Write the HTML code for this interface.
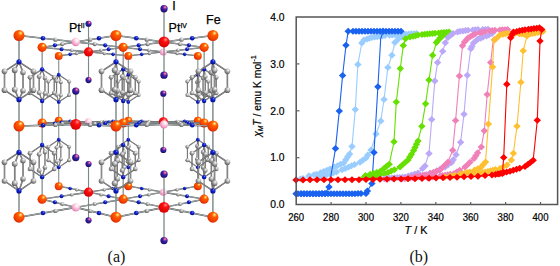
<!DOCTYPE html>
<html><head><meta charset="utf-8"><style>
html,body{margin:0;padding:0;background:#fff;}
svg{display:block;}
.t{font-family:"Liberation Sans",sans-serif;font-size:10.3px;fill:#000;stroke:#000;stroke-width:0.2px;}
.lab{font-family:"Liberation Sans",sans-serif;font-size:12.5px;fill:#000;stroke:#000;stroke-width:0.25px;}
.cap{font-family:"Liberation Serif",serif;font-size:16px;fill:#111;}
</style></head><body>
<svg width="560" height="266" viewBox="0 0 560 266">
<defs>
<radialGradient id="gFe" cx="0.62" cy="0.32" r="0.75" fx="0.65" fy="0.28">
 <stop offset="0" stop-color="#ffffd0"/><stop offset="0.1" stop-color="#ffc050"/><stop offset="0.3" stop-color="#ff5c00"/><stop offset="0.75" stop-color="#f03c00"/><stop offset="1" stop-color="#c81c00"/></radialGradient>
<radialGradient id="gPt4" cx="0.62" cy="0.32" r="0.75" fx="0.65" fy="0.28">
 <stop offset="0" stop-color="#ff9090"/><stop offset="0.3" stop-color="#ff1010"/><stop offset="1" stop-color="#d00000"/></radialGradient>
<radialGradient id="gPt2" cx="0.62" cy="0.32" r="0.75" fx="0.65" fy="0.28">
 <stop offset="0" stop-color="#ffffff"/><stop offset="0.35" stop-color="#fcd6e6"/><stop offset="0.8" stop-color="#f090c0"/><stop offset="1" stop-color="#e070a8"/></radialGradient>
<radialGradient id="gI" cx="0.62" cy="0.32" r="0.75" fx="0.65" fy="0.28">
 <stop offset="0" stop-color="#ffb0d0"/><stop offset="0.2" stop-color="#c04090"/><stop offset="0.45" stop-color="#3020a8"/><stop offset="1" stop-color="#200a60"/></radialGradient>
<radialGradient id="gN" cx="0.62" cy="0.32" r="0.75" fx="0.65" fy="0.28">
 <stop offset="0" stop-color="#8090ff"/><stop offset="0.3" stop-color="#1428d0"/><stop offset="1" stop-color="#000890"/></radialGradient>
<radialGradient id="gC" cx="0.62" cy="0.32" r="0.75" fx="0.65" fy="0.28">
 <stop offset="0" stop-color="#ffffff"/><stop offset="0.3" stop-color="#c4c4c4"/><stop offset="1" stop-color="#4a4a4a"/></radialGradient>
</defs>
<rect width="560" height="266" fill="#fff"/>
<g id="struct">
<line x1="58.74" y1="74.74" x2="60.83" y2="82.13" stroke="#505050" stroke-width="1.06"/><line x1="58.74" y1="74.74" x2="60.83" y2="82.13" stroke="#c8c8c8" stroke-width="0.35"/>
<line x1="60.83" y1="82.13" x2="60.83" y2="95.34" stroke="#505050" stroke-width="1.05"/><line x1="60.83" y1="82.13" x2="60.83" y2="95.34" stroke="#c8c8c8" stroke-width="0.35"/>
<line x1="60.83" y1="95.34" x2="58.74" y2="101.93" stroke="#505050" stroke-width="1.06"/><line x1="60.83" y1="95.34" x2="58.74" y2="101.93" stroke="#c8c8c8" stroke-width="0.35"/>
<line x1="128.32" y1="74.74" x2="128.97" y2="82.13" stroke="#505050" stroke-width="1.06"/><line x1="128.32" y1="74.74" x2="128.97" y2="82.13" stroke="#c8c8c8" stroke-width="0.35"/>
<line x1="128.97" y1="82.13" x2="128.97" y2="95.34" stroke="#505050" stroke-width="1.05"/><line x1="128.97" y1="82.13" x2="128.97" y2="95.34" stroke="#c8c8c8" stroke-width="0.35"/>
<line x1="128.97" y1="95.34" x2="128.32" y2="101.93" stroke="#505050" stroke-width="1.06"/><line x1="128.97" y1="95.34" x2="128.32" y2="101.93" stroke="#c8c8c8" stroke-width="0.35"/>
<line x1="197.84" y1="74.74" x2="197.04" y2="82.13" stroke="#505050" stroke-width="1.06"/><line x1="197.84" y1="74.74" x2="197.04" y2="82.13" stroke="#c8c8c8" stroke-width="0.35"/>
<line x1="197.04" y1="82.13" x2="197.04" y2="95.34" stroke="#505050" stroke-width="1.05"/><line x1="197.04" y1="82.13" x2="197.04" y2="95.34" stroke="#c8c8c8" stroke-width="0.35"/>
<line x1="197.04" y1="95.34" x2="197.84" y2="101.93" stroke="#505050" stroke-width="1.06"/><line x1="197.04" y1="95.34" x2="197.84" y2="101.93" stroke="#c8c8c8" stroke-width="0.35"/>
<line x1="58.74" y1="139.67" x2="60.83" y2="145.96" stroke="#505050" stroke-width="1.06"/><line x1="58.74" y1="139.67" x2="60.83" y2="145.96" stroke="#c8c8c8" stroke-width="0.35"/>
<line x1="60.83" y1="145.96" x2="60.83" y2="159.16" stroke="#505050" stroke-width="1.05"/><line x1="60.83" y1="145.96" x2="60.83" y2="159.16" stroke="#c8c8c8" stroke-width="0.35"/>
<line x1="60.83" y1="159.16" x2="58.74" y2="167.36" stroke="#505050" stroke-width="1.06"/><line x1="60.83" y1="159.16" x2="58.74" y2="167.36" stroke="#c8c8c8" stroke-width="0.35"/>
<line x1="128.32" y1="139.67" x2="128.97" y2="145.96" stroke="#505050" stroke-width="1.06"/><line x1="128.32" y1="139.67" x2="128.97" y2="145.96" stroke="#c8c8c8" stroke-width="0.35"/>
<line x1="128.97" y1="145.96" x2="128.97" y2="159.16" stroke="#505050" stroke-width="1.05"/><line x1="128.97" y1="145.96" x2="128.97" y2="159.16" stroke="#c8c8c8" stroke-width="0.35"/>
<line x1="128.97" y1="159.16" x2="128.32" y2="167.36" stroke="#505050" stroke-width="1.06"/><line x1="128.97" y1="159.16" x2="128.32" y2="167.36" stroke="#c8c8c8" stroke-width="0.35"/>
<line x1="197.84" y1="139.67" x2="197.04" y2="145.96" stroke="#505050" stroke-width="1.06"/><line x1="197.84" y1="139.67" x2="197.04" y2="145.96" stroke="#c8c8c8" stroke-width="0.35"/>
<line x1="197.04" y1="145.96" x2="197.04" y2="159.16" stroke="#505050" stroke-width="1.05"/><line x1="197.04" y1="145.96" x2="197.04" y2="159.16" stroke="#c8c8c8" stroke-width="0.35"/>
<line x1="197.04" y1="159.16" x2="197.84" y2="167.36" stroke="#505050" stroke-width="1.06"/><line x1="197.04" y1="159.16" x2="197.84" y2="167.36" stroke="#c8c8c8" stroke-width="0.35"/>
<circle cx="60.83" cy="82.13" r="1.97" fill="url(#gC)"/>
<circle cx="60.83" cy="95.34" r="1.97" fill="url(#gC)"/>
<circle cx="128.97" cy="82.13" r="1.97" fill="url(#gC)"/>
<circle cx="128.97" cy="95.34" r="1.97" fill="url(#gC)"/>
<circle cx="197.04" cy="82.13" r="1.97" fill="url(#gC)"/>
<circle cx="197.04" cy="95.34" r="1.97" fill="url(#gC)"/>
<circle cx="60.83" cy="145.96" r="1.97" fill="url(#gC)"/>
<circle cx="60.83" cy="159.16" r="1.97" fill="url(#gC)"/>
<circle cx="128.97" cy="145.96" r="1.97" fill="url(#gC)"/>
<circle cx="128.97" cy="159.16" r="1.97" fill="url(#gC)"/>
<circle cx="197.04" cy="145.96" r="1.97" fill="url(#gC)"/>
<circle cx="197.04" cy="159.16" r="1.97" fill="url(#gC)"/>
<line x1="58.74" y1="55.88" x2="88.51" y2="51.95" stroke="#3a4040" stroke-width="1.27"/><line x1="58.74" y1="55.88" x2="88.51" y2="51.95" stroke="#d4dada" stroke-width="0.57"/>
<line x1="128.32" y1="55.88" x2="88.51" y2="51.95" stroke="#3a4040" stroke-width="1.27"/><line x1="128.32" y1="55.88" x2="88.51" y2="51.95" stroke="#d4dada" stroke-width="0.57"/>
<line x1="128.32" y1="55.88" x2="163.34" y2="51.95" stroke="#3a4040" stroke-width="1.27"/><line x1="128.32" y1="55.88" x2="163.34" y2="51.95" stroke="#d4dada" stroke-width="0.57"/>
<line x1="197.84" y1="55.88" x2="163.34" y2="51.95" stroke="#3a4040" stroke-width="1.27"/><line x1="197.84" y1="55.88" x2="163.34" y2="51.95" stroke="#d4dada" stroke-width="0.57"/>
<line x1="58.74" y1="120.80" x2="88.51" y2="121.80" stroke="#3a4040" stroke-width="1.27"/><line x1="58.74" y1="120.80" x2="88.51" y2="121.80" stroke="#d4dada" stroke-width="0.57"/>
<line x1="128.32" y1="120.80" x2="88.51" y2="121.80" stroke="#3a4040" stroke-width="1.27"/><line x1="128.32" y1="120.80" x2="88.51" y2="121.80" stroke="#d4dada" stroke-width="0.57"/>
<line x1="128.32" y1="120.80" x2="163.34" y2="121.80" stroke="#3a4040" stroke-width="1.27"/><line x1="128.32" y1="120.80" x2="163.34" y2="121.80" stroke="#d4dada" stroke-width="0.57"/>
<line x1="197.84" y1="120.80" x2="163.34" y2="121.80" stroke="#3a4040" stroke-width="1.27"/><line x1="197.84" y1="120.80" x2="163.34" y2="121.80" stroke="#d4dada" stroke-width="0.57"/>
<line x1="58.74" y1="186.22" x2="88.51" y2="192.20" stroke="#3a4040" stroke-width="1.27"/><line x1="58.74" y1="186.22" x2="88.51" y2="192.20" stroke="#d4dada" stroke-width="0.57"/>
<line x1="128.32" y1="186.22" x2="88.51" y2="192.20" stroke="#3a4040" stroke-width="1.27"/><line x1="128.32" y1="186.22" x2="88.51" y2="192.20" stroke="#d4dada" stroke-width="0.57"/>
<line x1="128.32" y1="186.22" x2="163.34" y2="192.20" stroke="#3a4040" stroke-width="1.27"/><line x1="128.32" y1="186.22" x2="163.34" y2="192.20" stroke="#d4dada" stroke-width="0.57"/>
<line x1="197.84" y1="186.22" x2="163.34" y2="192.20" stroke="#3a4040" stroke-width="1.27"/><line x1="197.84" y1="186.22" x2="163.34" y2="192.20" stroke="#d4dada" stroke-width="0.57"/>
<line x1="58.74" y1="55.88" x2="58.74" y2="74.74" stroke="#7e8888" stroke-width="1.04"/>
<line x1="58.74" y1="101.93" x2="58.74" y2="120.80" stroke="#7e8888" stroke-width="1.04"/>
<line x1="58.74" y1="74.74" x2="48.34" y2="81.60" stroke="#505050" stroke-width="1.08"/><line x1="58.74" y1="74.74" x2="48.34" y2="81.60" stroke="#c8c8c8" stroke-width="0.36"/>
<line x1="48.34" y1="81.60" x2="48.34" y2="95.08" stroke="#505050" stroke-width="1.08"/><line x1="48.34" y1="81.60" x2="48.34" y2="95.08" stroke="#c8c8c8" stroke-width="0.36"/>
<line x1="48.34" y1="95.08" x2="58.74" y2="101.93" stroke="#505050" stroke-width="1.08"/><line x1="48.34" y1="95.08" x2="58.74" y2="101.93" stroke="#c8c8c8" stroke-width="0.36"/>
<line x1="58.74" y1="74.74" x2="69.14" y2="81.60" stroke="#505050" stroke-width="1.08"/><line x1="58.74" y1="74.74" x2="69.14" y2="81.60" stroke="#c8c8c8" stroke-width="0.36"/>
<line x1="69.14" y1="81.60" x2="69.14" y2="95.08" stroke="#505050" stroke-width="1.08"/><line x1="69.14" y1="81.60" x2="69.14" y2="95.08" stroke="#c8c8c8" stroke-width="0.36"/>
<line x1="69.14" y1="95.08" x2="58.74" y2="101.93" stroke="#505050" stroke-width="1.08"/><line x1="69.14" y1="95.08" x2="58.74" y2="101.93" stroke="#c8c8c8" stroke-width="0.36"/>
<line x1="58.74" y1="74.74" x2="56.56" y2="81.03" stroke="#505050" stroke-width="1.09"/><line x1="58.74" y1="74.74" x2="56.56" y2="81.03" stroke="#c8c8c8" stroke-width="0.36"/>
<line x1="56.56" y1="94.81" x2="58.74" y2="101.93" stroke="#505050" stroke-width="1.09"/><line x1="56.56" y1="94.81" x2="58.74" y2="101.93" stroke="#c8c8c8" stroke-width="0.36"/>
<line x1="128.32" y1="55.88" x2="128.32" y2="74.74" stroke="#7e8888" stroke-width="1.04"/>
<line x1="128.32" y1="101.93" x2="128.32" y2="120.80" stroke="#7e8888" stroke-width="1.04"/>
<line x1="128.32" y1="74.74" x2="117.92" y2="81.60" stroke="#505050" stroke-width="1.08"/><line x1="128.32" y1="74.74" x2="117.92" y2="81.60" stroke="#c8c8c8" stroke-width="0.36"/>
<line x1="117.92" y1="81.60" x2="117.92" y2="95.08" stroke="#505050" stroke-width="1.08"/><line x1="117.92" y1="81.60" x2="117.92" y2="95.08" stroke="#c8c8c8" stroke-width="0.36"/>
<line x1="117.92" y1="95.08" x2="128.32" y2="101.93" stroke="#505050" stroke-width="1.08"/><line x1="117.92" y1="95.08" x2="128.32" y2="101.93" stroke="#c8c8c8" stroke-width="0.36"/>
<line x1="128.32" y1="74.74" x2="138.72" y2="81.60" stroke="#505050" stroke-width="1.08"/><line x1="128.32" y1="74.74" x2="138.72" y2="81.60" stroke="#c8c8c8" stroke-width="0.36"/>
<line x1="138.72" y1="81.60" x2="138.72" y2="95.08" stroke="#505050" stroke-width="1.08"/><line x1="138.72" y1="81.60" x2="138.72" y2="95.08" stroke="#c8c8c8" stroke-width="0.36"/>
<line x1="138.72" y1="95.08" x2="128.32" y2="101.93" stroke="#505050" stroke-width="1.08"/><line x1="138.72" y1="95.08" x2="128.32" y2="101.93" stroke="#c8c8c8" stroke-width="0.36"/>
<line x1="128.32" y1="74.74" x2="127.65" y2="81.03" stroke="#505050" stroke-width="1.09"/><line x1="128.32" y1="74.74" x2="127.65" y2="81.03" stroke="#c8c8c8" stroke-width="0.36"/>
<line x1="127.65" y1="94.81" x2="128.32" y2="101.93" stroke="#505050" stroke-width="1.09"/><line x1="127.65" y1="94.81" x2="128.32" y2="101.93" stroke="#c8c8c8" stroke-width="0.36"/>
<line x1="197.84" y1="55.88" x2="197.84" y2="74.74" stroke="#7e8888" stroke-width="1.04"/>
<line x1="197.84" y1="101.93" x2="197.84" y2="120.80" stroke="#7e8888" stroke-width="1.04"/>
<line x1="197.84" y1="74.74" x2="187.43" y2="81.60" stroke="#505050" stroke-width="1.08"/><line x1="197.84" y1="74.74" x2="187.43" y2="81.60" stroke="#c8c8c8" stroke-width="0.36"/>
<line x1="187.43" y1="81.60" x2="187.43" y2="95.08" stroke="#505050" stroke-width="1.08"/><line x1="187.43" y1="81.60" x2="187.43" y2="95.08" stroke="#c8c8c8" stroke-width="0.36"/>
<line x1="187.43" y1="95.08" x2="197.84" y2="101.93" stroke="#505050" stroke-width="1.08"/><line x1="187.43" y1="95.08" x2="197.84" y2="101.93" stroke="#c8c8c8" stroke-width="0.36"/>
<line x1="197.84" y1="74.74" x2="208.24" y2="81.60" stroke="#505050" stroke-width="1.08"/><line x1="197.84" y1="74.74" x2="208.24" y2="81.60" stroke="#c8c8c8" stroke-width="0.36"/>
<line x1="208.24" y1="81.60" x2="208.24" y2="95.08" stroke="#505050" stroke-width="1.08"/><line x1="208.24" y1="81.60" x2="208.24" y2="95.08" stroke="#c8c8c8" stroke-width="0.36"/>
<line x1="208.24" y1="95.08" x2="197.84" y2="101.93" stroke="#505050" stroke-width="1.08"/><line x1="208.24" y1="95.08" x2="197.84" y2="101.93" stroke="#c8c8c8" stroke-width="0.36"/>
<line x1="197.84" y1="74.74" x2="198.66" y2="81.03" stroke="#505050" stroke-width="1.09"/><line x1="197.84" y1="74.74" x2="198.66" y2="81.03" stroke="#c8c8c8" stroke-width="0.36"/>
<line x1="198.66" y1="94.81" x2="197.84" y2="101.93" stroke="#505050" stroke-width="1.09"/><line x1="198.66" y1="94.81" x2="197.84" y2="101.93" stroke="#c8c8c8" stroke-width="0.36"/>
<line x1="58.74" y1="120.80" x2="58.74" y2="139.67" stroke="#7e8888" stroke-width="1.04"/>
<line x1="58.74" y1="167.36" x2="58.74" y2="186.22" stroke="#7e8888" stroke-width="1.04"/>
<line x1="58.74" y1="139.67" x2="48.34" y2="146.77" stroke="#505050" stroke-width="1.08"/><line x1="58.74" y1="139.67" x2="48.34" y2="146.77" stroke="#c8c8c8" stroke-width="0.36"/>
<line x1="48.34" y1="146.77" x2="48.34" y2="160.25" stroke="#505050" stroke-width="1.08"/><line x1="48.34" y1="146.77" x2="48.34" y2="160.25" stroke="#c8c8c8" stroke-width="0.36"/>
<line x1="48.34" y1="160.25" x2="58.74" y2="167.36" stroke="#505050" stroke-width="1.08"/><line x1="48.34" y1="160.25" x2="58.74" y2="167.36" stroke="#c8c8c8" stroke-width="0.36"/>
<line x1="58.74" y1="139.67" x2="69.14" y2="146.77" stroke="#505050" stroke-width="1.08"/><line x1="58.74" y1="139.67" x2="69.14" y2="146.77" stroke="#c8c8c8" stroke-width="0.36"/>
<line x1="69.14" y1="146.77" x2="69.14" y2="160.25" stroke="#505050" stroke-width="1.08"/><line x1="69.14" y1="146.77" x2="69.14" y2="160.25" stroke="#c8c8c8" stroke-width="0.36"/>
<line x1="69.14" y1="160.25" x2="58.74" y2="167.36" stroke="#505050" stroke-width="1.08"/><line x1="69.14" y1="160.25" x2="58.74" y2="167.36" stroke="#c8c8c8" stroke-width="0.36"/>
<line x1="58.74" y1="139.67" x2="56.56" y2="147.61" stroke="#505050" stroke-width="1.09"/><line x1="58.74" y1="139.67" x2="56.56" y2="147.61" stroke="#c8c8c8" stroke-width="0.36"/>
<line x1="56.56" y1="161.39" x2="58.74" y2="167.36" stroke="#505050" stroke-width="1.09"/><line x1="56.56" y1="161.39" x2="58.74" y2="167.36" stroke="#c8c8c8" stroke-width="0.36"/>
<line x1="128.32" y1="120.80" x2="128.32" y2="139.67" stroke="#7e8888" stroke-width="1.04"/>
<line x1="128.32" y1="167.36" x2="128.32" y2="186.22" stroke="#7e8888" stroke-width="1.04"/>
<line x1="128.32" y1="139.67" x2="117.92" y2="146.77" stroke="#505050" stroke-width="1.08"/><line x1="128.32" y1="139.67" x2="117.92" y2="146.77" stroke="#c8c8c8" stroke-width="0.36"/>
<line x1="117.92" y1="146.77" x2="117.92" y2="160.25" stroke="#505050" stroke-width="1.08"/><line x1="117.92" y1="146.77" x2="117.92" y2="160.25" stroke="#c8c8c8" stroke-width="0.36"/>
<line x1="117.92" y1="160.25" x2="128.32" y2="167.36" stroke="#505050" stroke-width="1.08"/><line x1="117.92" y1="160.25" x2="128.32" y2="167.36" stroke="#c8c8c8" stroke-width="0.36"/>
<line x1="128.32" y1="139.67" x2="138.72" y2="146.77" stroke="#505050" stroke-width="1.08"/><line x1="128.32" y1="139.67" x2="138.72" y2="146.77" stroke="#c8c8c8" stroke-width="0.36"/>
<line x1="138.72" y1="146.77" x2="138.72" y2="160.25" stroke="#505050" stroke-width="1.08"/><line x1="138.72" y1="146.77" x2="138.72" y2="160.25" stroke="#c8c8c8" stroke-width="0.36"/>
<line x1="138.72" y1="160.25" x2="128.32" y2="167.36" stroke="#505050" stroke-width="1.08"/><line x1="138.72" y1="160.25" x2="128.32" y2="167.36" stroke="#c8c8c8" stroke-width="0.36"/>
<line x1="128.32" y1="139.67" x2="127.65" y2="147.61" stroke="#505050" stroke-width="1.09"/><line x1="128.32" y1="139.67" x2="127.65" y2="147.61" stroke="#c8c8c8" stroke-width="0.36"/>
<line x1="127.65" y1="161.39" x2="128.32" y2="167.36" stroke="#505050" stroke-width="1.09"/><line x1="127.65" y1="161.39" x2="128.32" y2="167.36" stroke="#c8c8c8" stroke-width="0.36"/>
<line x1="197.84" y1="120.80" x2="197.84" y2="139.67" stroke="#7e8888" stroke-width="1.04"/>
<line x1="197.84" y1="167.36" x2="197.84" y2="186.22" stroke="#7e8888" stroke-width="1.04"/>
<line x1="197.84" y1="139.67" x2="187.43" y2="146.77" stroke="#505050" stroke-width="1.08"/><line x1="197.84" y1="139.67" x2="187.43" y2="146.77" stroke="#c8c8c8" stroke-width="0.36"/>
<line x1="187.43" y1="146.77" x2="187.43" y2="160.25" stroke="#505050" stroke-width="1.08"/><line x1="187.43" y1="146.77" x2="187.43" y2="160.25" stroke="#c8c8c8" stroke-width="0.36"/>
<line x1="187.43" y1="160.25" x2="197.84" y2="167.36" stroke="#505050" stroke-width="1.08"/><line x1="187.43" y1="160.25" x2="197.84" y2="167.36" stroke="#c8c8c8" stroke-width="0.36"/>
<line x1="197.84" y1="139.67" x2="208.24" y2="146.77" stroke="#505050" stroke-width="1.08"/><line x1="197.84" y1="139.67" x2="208.24" y2="146.77" stroke="#c8c8c8" stroke-width="0.36"/>
<line x1="208.24" y1="146.77" x2="208.24" y2="160.25" stroke="#505050" stroke-width="1.08"/><line x1="208.24" y1="146.77" x2="208.24" y2="160.25" stroke="#c8c8c8" stroke-width="0.36"/>
<line x1="208.24" y1="160.25" x2="197.84" y2="167.36" stroke="#505050" stroke-width="1.08"/><line x1="208.24" y1="160.25" x2="197.84" y2="167.36" stroke="#c8c8c8" stroke-width="0.36"/>
<line x1="197.84" y1="139.67" x2="198.66" y2="147.61" stroke="#505050" stroke-width="1.09"/><line x1="197.84" y1="139.67" x2="198.66" y2="147.61" stroke="#c8c8c8" stroke-width="0.36"/>
<line x1="198.66" y1="161.39" x2="197.84" y2="167.36" stroke="#505050" stroke-width="1.09"/><line x1="198.66" y1="161.39" x2="197.84" y2="167.36" stroke="#c8c8c8" stroke-width="0.36"/>
<circle cx="58.74" cy="55.88" r="3.95" fill="url(#gFe)"/>
<circle cx="128.32" cy="55.88" r="3.95" fill="url(#gFe)"/>
<circle cx="197.84" cy="55.88" r="3.95" fill="url(#gFe)"/>
<circle cx="58.74" cy="120.80" r="3.95" fill="url(#gFe)"/>
<circle cx="128.32" cy="120.80" r="3.95" fill="url(#gFe)"/>
<circle cx="197.84" cy="120.80" r="3.95" fill="url(#gFe)"/>
<circle cx="58.74" cy="186.22" r="3.95" fill="url(#gFe)"/>
<circle cx="128.32" cy="186.22" r="3.95" fill="url(#gFe)"/>
<circle cx="197.84" cy="186.22" r="3.95" fill="url(#gFe)"/>
<circle cx="58.74" cy="74.74" r="1.87" fill="url(#gN)"/>
<circle cx="58.74" cy="101.93" r="1.87" fill="url(#gN)"/>
<circle cx="48.34" cy="81.60" r="2.01" fill="url(#gC)"/>
<circle cx="48.34" cy="95.08" r="2.01" fill="url(#gC)"/>
<circle cx="69.14" cy="81.60" r="2.01" fill="url(#gC)"/>
<circle cx="69.14" cy="95.08" r="2.01" fill="url(#gC)"/>
<circle cx="128.32" cy="74.74" r="1.87" fill="url(#gN)"/>
<circle cx="128.32" cy="101.93" r="1.87" fill="url(#gN)"/>
<circle cx="117.92" cy="81.60" r="2.01" fill="url(#gC)"/>
<circle cx="117.92" cy="95.08" r="2.01" fill="url(#gC)"/>
<circle cx="138.72" cy="81.60" r="2.01" fill="url(#gC)"/>
<circle cx="138.72" cy="95.08" r="2.01" fill="url(#gC)"/>
<circle cx="197.84" cy="74.74" r="1.87" fill="url(#gN)"/>
<circle cx="197.84" cy="101.93" r="1.87" fill="url(#gN)"/>
<circle cx="187.43" cy="81.60" r="2.01" fill="url(#gC)"/>
<circle cx="187.43" cy="95.08" r="2.01" fill="url(#gC)"/>
<circle cx="208.24" cy="81.60" r="2.01" fill="url(#gC)"/>
<circle cx="208.24" cy="95.08" r="2.01" fill="url(#gC)"/>
<circle cx="58.74" cy="139.67" r="1.87" fill="url(#gN)"/>
<circle cx="58.74" cy="167.36" r="1.87" fill="url(#gN)"/>
<circle cx="48.34" cy="146.77" r="2.01" fill="url(#gC)"/>
<circle cx="48.34" cy="160.25" r="2.01" fill="url(#gC)"/>
<circle cx="69.14" cy="146.77" r="2.01" fill="url(#gC)"/>
<circle cx="69.14" cy="160.25" r="2.01" fill="url(#gC)"/>
<circle cx="128.32" cy="139.67" r="1.87" fill="url(#gN)"/>
<circle cx="128.32" cy="167.36" r="1.87" fill="url(#gN)"/>
<circle cx="117.92" cy="146.77" r="2.01" fill="url(#gC)"/>
<circle cx="117.92" cy="160.25" r="2.01" fill="url(#gC)"/>
<circle cx="138.72" cy="146.77" r="2.01" fill="url(#gC)"/>
<circle cx="138.72" cy="160.25" r="2.01" fill="url(#gC)"/>
<circle cx="197.84" cy="139.67" r="1.87" fill="url(#gN)"/>
<circle cx="197.84" cy="167.36" r="1.87" fill="url(#gN)"/>
<circle cx="187.43" cy="146.77" r="2.01" fill="url(#gC)"/>
<circle cx="187.43" cy="160.25" r="2.01" fill="url(#gC)"/>
<circle cx="208.24" cy="146.77" r="2.01" fill="url(#gC)"/>
<circle cx="208.24" cy="160.25" r="2.01" fill="url(#gC)"/>
<line x1="56.56" y1="81.03" x2="56.56" y2="94.81" stroke="#505050" stroke-width="1.10"/><line x1="56.56" y1="81.03" x2="56.56" y2="94.81" stroke="#c8c8c8" stroke-width="0.36"/>
<line x1="127.65" y1="81.03" x2="127.65" y2="94.81" stroke="#505050" stroke-width="1.10"/><line x1="127.65" y1="81.03" x2="127.65" y2="94.81" stroke="#c8c8c8" stroke-width="0.36"/>
<line x1="198.66" y1="81.03" x2="198.66" y2="94.81" stroke="#505050" stroke-width="1.10"/><line x1="198.66" y1="81.03" x2="198.66" y2="94.81" stroke="#c8c8c8" stroke-width="0.36"/>
<line x1="56.56" y1="147.61" x2="56.56" y2="161.39" stroke="#505050" stroke-width="1.10"/><line x1="56.56" y1="147.61" x2="56.56" y2="161.39" stroke="#c8c8c8" stroke-width="0.36"/>
<line x1="127.65" y1="147.61" x2="127.65" y2="161.39" stroke="#505050" stroke-width="1.10"/><line x1="127.65" y1="147.61" x2="127.65" y2="161.39" stroke="#c8c8c8" stroke-width="0.36"/>
<line x1="198.66" y1="147.61" x2="198.66" y2="161.39" stroke="#505050" stroke-width="1.10"/><line x1="198.66" y1="147.61" x2="198.66" y2="161.39" stroke="#c8c8c8" stroke-width="0.36"/>
<circle cx="56.56" cy="81.03" r="2.05" fill="url(#gC)"/>
<circle cx="56.56" cy="94.81" r="2.05" fill="url(#gC)"/>
<circle cx="127.65" cy="81.03" r="2.05" fill="url(#gC)"/>
<circle cx="127.65" cy="94.81" r="2.05" fill="url(#gC)"/>
<circle cx="198.66" cy="81.03" r="2.05" fill="url(#gC)"/>
<circle cx="198.66" cy="94.81" r="2.05" fill="url(#gC)"/>
<circle cx="56.56" cy="147.61" r="2.05" fill="url(#gC)"/>
<circle cx="56.56" cy="161.39" r="2.05" fill="url(#gC)"/>
<circle cx="127.65" cy="147.61" r="2.05" fill="url(#gC)"/>
<circle cx="127.65" cy="161.39" r="2.05" fill="url(#gC)"/>
<circle cx="198.66" cy="147.61" r="2.05" fill="url(#gC)"/>
<circle cx="198.66" cy="161.39" r="2.05" fill="url(#gC)"/>
<circle cx="70.13" cy="54.37" r="1.77" fill="url(#gN)"/>
<circle cx="113.09" cy="54.37" r="1.77" fill="url(#gN)"/>
<circle cx="141.72" cy="54.37" r="1.77" fill="url(#gN)"/>
<circle cx="184.64" cy="54.37" r="1.77" fill="url(#gN)"/>
<circle cx="70.13" cy="121.18" r="1.77" fill="url(#gN)"/>
<circle cx="113.09" cy="121.18" r="1.77" fill="url(#gN)"/>
<circle cx="141.72" cy="121.18" r="1.77" fill="url(#gN)"/>
<circle cx="184.64" cy="121.18" r="1.77" fill="url(#gN)"/>
<circle cx="70.13" cy="188.51" r="1.77" fill="url(#gN)"/>
<circle cx="113.09" cy="188.51" r="1.77" fill="url(#gN)"/>
<circle cx="141.72" cy="188.51" r="1.77" fill="url(#gN)"/>
<circle cx="184.64" cy="188.51" r="1.77" fill="url(#gN)"/>
<circle cx="76.68" cy="53.51" r="1.73" fill="url(#gC)"/>
<circle cx="104.33" cy="53.51" r="1.73" fill="url(#gC)"/>
<circle cx="149.43" cy="53.51" r="1.73" fill="url(#gC)"/>
<circle cx="177.05" cy="53.51" r="1.73" fill="url(#gC)"/>
<circle cx="76.68" cy="121.40" r="1.73" fill="url(#gC)"/>
<circle cx="104.33" cy="121.40" r="1.73" fill="url(#gC)"/>
<circle cx="149.43" cy="121.40" r="1.73" fill="url(#gC)"/>
<circle cx="177.05" cy="121.40" r="1.73" fill="url(#gC)"/>
<circle cx="76.68" cy="189.82" r="1.73" fill="url(#gC)"/>
<circle cx="104.33" cy="189.82" r="1.73" fill="url(#gC)"/>
<circle cx="149.43" cy="189.82" r="1.73" fill="url(#gC)"/>
<circle cx="177.05" cy="189.82" r="1.73" fill="url(#gC)"/>
<line x1="42.14" y1="47.37" x2="88.51" y2="51.95" stroke="#3a4040" stroke-width="1.37"/><line x1="42.14" y1="47.37" x2="88.51" y2="51.95" stroke="#d4dada" stroke-width="0.61"/>
<line x1="123.18" y1="47.37" x2="88.51" y2="51.95" stroke="#3a4040" stroke-width="1.37"/><line x1="123.18" y1="47.37" x2="88.51" y2="51.95" stroke="#d4dada" stroke-width="0.61"/>
<line x1="88.51" y1="51.95" x2="88.51" y2="23.77" stroke="#7e8888" stroke-width="1.12"/>
<line x1="88.51" y1="51.95" x2="88.51" y2="80.12" stroke="#7e8888" stroke-width="1.12"/>
<line x1="123.18" y1="47.37" x2="163.34" y2="51.95" stroke="#3a4040" stroke-width="1.37"/><line x1="123.18" y1="47.37" x2="163.34" y2="51.95" stroke="#d4dada" stroke-width="0.61"/>
<line x1="204.13" y1="47.37" x2="163.34" y2="51.95" stroke="#3a4040" stroke-width="1.37"/><line x1="204.13" y1="47.37" x2="163.34" y2="51.95" stroke="#d4dada" stroke-width="0.61"/>
<line x1="42.14" y1="122.97" x2="88.51" y2="121.80" stroke="#3a4040" stroke-width="1.37"/><line x1="42.14" y1="122.97" x2="88.51" y2="121.80" stroke="#d4dada" stroke-width="0.61"/>
<line x1="123.18" y1="122.97" x2="88.51" y2="121.80" stroke="#3a4040" stroke-width="1.37"/><line x1="123.18" y1="122.97" x2="88.51" y2="121.80" stroke="#d4dada" stroke-width="0.61"/>
<line x1="123.18" y1="122.97" x2="163.34" y2="121.80" stroke="#3a4040" stroke-width="1.37"/><line x1="123.18" y1="122.97" x2="163.34" y2="121.80" stroke="#d4dada" stroke-width="0.61"/>
<line x1="204.13" y1="122.97" x2="163.34" y2="121.80" stroke="#3a4040" stroke-width="1.37"/><line x1="204.13" y1="122.97" x2="163.34" y2="121.80" stroke="#d4dada" stroke-width="0.61"/>
<line x1="163.34" y1="121.80" x2="163.34" y2="93.63" stroke="#7e8888" stroke-width="1.12"/>
<line x1="163.34" y1="121.80" x2="163.34" y2="149.98" stroke="#7e8888" stroke-width="1.12"/>
<line x1="42.14" y1="199.16" x2="88.51" y2="192.20" stroke="#3a4040" stroke-width="1.37"/><line x1="42.14" y1="199.16" x2="88.51" y2="192.20" stroke="#d4dada" stroke-width="0.61"/>
<line x1="123.18" y1="199.16" x2="88.51" y2="192.20" stroke="#3a4040" stroke-width="1.37"/><line x1="123.18" y1="199.16" x2="88.51" y2="192.20" stroke="#d4dada" stroke-width="0.61"/>
<line x1="88.51" y1="192.20" x2="88.51" y2="164.03" stroke="#7e8888" stroke-width="1.12"/>
<line x1="88.51" y1="192.20" x2="88.51" y2="220.37" stroke="#7e8888" stroke-width="1.12"/>
<line x1="123.18" y1="199.16" x2="163.34" y2="192.20" stroke="#3a4040" stroke-width="1.37"/><line x1="123.18" y1="199.16" x2="163.34" y2="192.20" stroke="#d4dada" stroke-width="0.61"/>
<line x1="204.13" y1="199.16" x2="163.34" y2="192.20" stroke="#3a4040" stroke-width="1.37"/><line x1="204.13" y1="199.16" x2="163.34" y2="192.20" stroke="#d4dada" stroke-width="0.61"/>
<circle cx="88.51" cy="51.95" r="4.63" fill="url(#gPt4)"/>
<circle cx="88.51" cy="23.77" r="3.09" fill="url(#gI)"/>
<circle cx="88.51" cy="80.12" r="3.09" fill="url(#gI)"/>
<circle cx="163.34" cy="51.95" r="3.55" fill="url(#gPt2)"/>
<circle cx="88.51" cy="121.80" r="3.55" fill="url(#gPt2)"/>
<circle cx="163.34" cy="121.80" r="4.63" fill="url(#gPt4)"/>
<circle cx="163.34" cy="93.63" r="3.09" fill="url(#gI)"/>
<circle cx="163.34" cy="149.98" r="3.09" fill="url(#gI)"/>
<circle cx="88.51" cy="192.20" r="4.63" fill="url(#gPt4)"/>
<circle cx="88.51" cy="164.03" r="3.09" fill="url(#gI)"/>
<circle cx="88.51" cy="220.37" r="3.09" fill="url(#gI)"/>
<circle cx="163.34" cy="192.20" r="3.55" fill="url(#gPt2)"/>
<circle cx="71.74" cy="50.29" r="1.83" fill="url(#gC)"/>
<circle cx="101.04" cy="50.29" r="1.83" fill="url(#gC)"/>
<circle cx="148.82" cy="50.29" r="1.83" fill="url(#gC)"/>
<circle cx="178.09" cy="50.29" r="1.83" fill="url(#gC)"/>
<circle cx="71.74" cy="122.23" r="1.83" fill="url(#gC)"/>
<circle cx="101.04" cy="122.23" r="1.83" fill="url(#gC)"/>
<circle cx="148.82" cy="122.23" r="1.83" fill="url(#gC)"/>
<circle cx="178.09" cy="122.23" r="1.83" fill="url(#gC)"/>
<circle cx="71.74" cy="194.72" r="1.83" fill="url(#gC)"/>
<circle cx="101.04" cy="194.72" r="1.83" fill="url(#gC)"/>
<circle cx="148.82" cy="194.72" r="1.83" fill="url(#gC)"/>
<circle cx="178.09" cy="194.72" r="1.83" fill="url(#gC)"/>
<circle cx="61.57" cy="49.29" r="1.94" fill="url(#gN)"/>
<circle cx="108.65" cy="49.29" r="1.94" fill="url(#gN)"/>
<circle cx="140.01" cy="49.29" r="1.94" fill="url(#gN)"/>
<circle cx="187.03" cy="49.29" r="1.94" fill="url(#gN)"/>
<circle cx="61.57" cy="122.48" r="1.94" fill="url(#gN)"/>
<circle cx="108.65" cy="122.48" r="1.94" fill="url(#gN)"/>
<circle cx="140.01" cy="122.48" r="1.94" fill="url(#gN)"/>
<circle cx="187.03" cy="122.48" r="1.94" fill="url(#gN)"/>
<circle cx="61.57" cy="196.24" r="1.94" fill="url(#gN)"/>
<circle cx="108.65" cy="196.24" r="1.94" fill="url(#gN)"/>
<circle cx="140.01" cy="196.24" r="1.94" fill="url(#gN)"/>
<circle cx="187.03" cy="196.24" r="1.94" fill="url(#gN)"/>
<line x1="42.14" y1="69.34" x2="44.96" y2="78.04" stroke="#505050" stroke-width="1.24"/><line x1="42.14" y1="69.34" x2="44.96" y2="78.04" stroke="#c8c8c8" stroke-width="0.41"/>
<line x1="44.96" y1="78.04" x2="44.96" y2="93.37" stroke="#505050" stroke-width="1.22"/><line x1="44.96" y1="78.04" x2="44.96" y2="93.37" stroke="#c8c8c8" stroke-width="0.40"/>
<line x1="44.96" y1="93.37" x2="42.14" y2="101.00" stroke="#505050" stroke-width="1.24"/><line x1="44.96" y1="93.37" x2="42.14" y2="101.00" stroke="#c8c8c8" stroke-width="0.41"/>
<line x1="123.18" y1="69.34" x2="124.05" y2="78.04" stroke="#505050" stroke-width="1.24"/><line x1="123.18" y1="69.34" x2="124.05" y2="78.04" stroke="#c8c8c8" stroke-width="0.41"/>
<line x1="124.05" y1="78.04" x2="124.05" y2="93.37" stroke="#505050" stroke-width="1.22"/><line x1="124.05" y1="78.04" x2="124.05" y2="93.37" stroke="#c8c8c8" stroke-width="0.40"/>
<line x1="124.05" y1="93.37" x2="123.18" y2="101.00" stroke="#505050" stroke-width="1.24"/><line x1="124.05" y1="93.37" x2="123.18" y2="101.00" stroke="#c8c8c8" stroke-width="0.41"/>
<line x1="204.13" y1="69.34" x2="203.06" y2="78.04" stroke="#505050" stroke-width="1.24"/><line x1="204.13" y1="69.34" x2="203.06" y2="78.04" stroke="#c8c8c8" stroke-width="0.41"/>
<line x1="203.06" y1="78.04" x2="203.06" y2="93.37" stroke="#505050" stroke-width="1.22"/><line x1="203.06" y1="78.04" x2="203.06" y2="93.37" stroke="#c8c8c8" stroke-width="0.40"/>
<line x1="203.06" y1="93.37" x2="204.13" y2="101.00" stroke="#505050" stroke-width="1.24"/><line x1="203.06" y1="93.37" x2="204.13" y2="101.00" stroke="#c8c8c8" stroke-width="0.41"/>
<line x1="42.14" y1="144.94" x2="44.96" y2="152.12" stroke="#505050" stroke-width="1.24"/><line x1="42.14" y1="144.94" x2="44.96" y2="152.12" stroke="#c8c8c8" stroke-width="0.41"/>
<line x1="44.96" y1="152.12" x2="44.96" y2="167.45" stroke="#505050" stroke-width="1.22"/><line x1="44.96" y1="152.12" x2="44.96" y2="167.45" stroke="#c8c8c8" stroke-width="0.40"/>
<line x1="44.96" y1="167.45" x2="42.14" y2="177.19" stroke="#505050" stroke-width="1.24"/><line x1="44.96" y1="167.45" x2="42.14" y2="177.19" stroke="#c8c8c8" stroke-width="0.41"/>
<line x1="123.18" y1="144.94" x2="124.05" y2="152.12" stroke="#505050" stroke-width="1.24"/><line x1="123.18" y1="144.94" x2="124.05" y2="152.12" stroke="#c8c8c8" stroke-width="0.41"/>
<line x1="124.05" y1="152.12" x2="124.05" y2="167.45" stroke="#505050" stroke-width="1.22"/><line x1="124.05" y1="152.12" x2="124.05" y2="167.45" stroke="#c8c8c8" stroke-width="0.40"/>
<line x1="124.05" y1="167.45" x2="123.18" y2="177.19" stroke="#505050" stroke-width="1.24"/><line x1="124.05" y1="167.45" x2="123.18" y2="177.19" stroke="#c8c8c8" stroke-width="0.41"/>
<line x1="204.13" y1="144.94" x2="203.06" y2="152.12" stroke="#505050" stroke-width="1.24"/><line x1="204.13" y1="144.94" x2="203.06" y2="152.12" stroke="#c8c8c8" stroke-width="0.41"/>
<line x1="203.06" y1="152.12" x2="203.06" y2="167.45" stroke="#505050" stroke-width="1.22"/><line x1="203.06" y1="152.12" x2="203.06" y2="167.45" stroke="#c8c8c8" stroke-width="0.40"/>
<line x1="203.06" y1="167.45" x2="204.13" y2="177.19" stroke="#505050" stroke-width="1.24"/><line x1="203.06" y1="167.45" x2="204.13" y2="177.19" stroke="#c8c8c8" stroke-width="0.41"/>
<circle cx="44.96" cy="78.04" r="2.28" fill="url(#gC)"/>
<circle cx="44.96" cy="93.37" r="2.28" fill="url(#gC)"/>
<circle cx="124.05" cy="78.04" r="2.28" fill="url(#gC)"/>
<circle cx="124.05" cy="93.37" r="2.28" fill="url(#gC)"/>
<circle cx="203.06" cy="78.04" r="2.28" fill="url(#gC)"/>
<circle cx="203.06" cy="93.37" r="2.28" fill="url(#gC)"/>
<circle cx="44.96" cy="152.12" r="2.28" fill="url(#gC)"/>
<circle cx="44.96" cy="167.45" r="2.28" fill="url(#gC)"/>
<circle cx="124.05" cy="152.12" r="2.28" fill="url(#gC)"/>
<circle cx="124.05" cy="167.45" r="2.28" fill="url(#gC)"/>
<circle cx="203.06" cy="152.12" r="2.28" fill="url(#gC)"/>
<circle cx="203.06" cy="167.45" r="2.28" fill="url(#gC)"/>
<line x1="42.14" y1="47.37" x2="75.76" y2="41.97" stroke="#3a4040" stroke-width="1.48"/><line x1="42.14" y1="47.37" x2="75.76" y2="41.97" stroke="#d4dada" stroke-width="0.67"/>
<line x1="123.18" y1="47.37" x2="75.76" y2="41.97" stroke="#3a4040" stroke-width="1.48"/><line x1="123.18" y1="47.37" x2="75.76" y2="41.97" stroke="#d4dada" stroke-width="0.67"/>
<line x1="123.18" y1="47.37" x2="164.02" y2="41.97" stroke="#3a4040" stroke-width="1.48"/><line x1="123.18" y1="47.37" x2="164.02" y2="41.97" stroke="#d4dada" stroke-width="0.67"/>
<line x1="204.13" y1="47.37" x2="164.02" y2="41.97" stroke="#3a4040" stroke-width="1.48"/><line x1="204.13" y1="47.37" x2="164.02" y2="41.97" stroke="#d4dada" stroke-width="0.67"/>
<line x1="42.14" y1="122.97" x2="75.76" y2="124.35" stroke="#3a4040" stroke-width="1.48"/><line x1="42.14" y1="122.97" x2="75.76" y2="124.35" stroke="#d4dada" stroke-width="0.67"/>
<line x1="123.18" y1="122.97" x2="75.76" y2="124.35" stroke="#3a4040" stroke-width="1.48"/><line x1="123.18" y1="122.97" x2="75.76" y2="124.35" stroke="#d4dada" stroke-width="0.67"/>
<line x1="123.18" y1="122.97" x2="164.02" y2="124.35" stroke="#3a4040" stroke-width="1.48"/><line x1="123.18" y1="122.97" x2="164.02" y2="124.35" stroke="#d4dada" stroke-width="0.67"/>
<line x1="204.13" y1="122.97" x2="164.02" y2="124.35" stroke="#3a4040" stroke-width="1.48"/><line x1="204.13" y1="122.97" x2="164.02" y2="124.35" stroke="#d4dada" stroke-width="0.67"/>
<line x1="42.14" y1="199.16" x2="75.76" y2="207.37" stroke="#3a4040" stroke-width="1.48"/><line x1="42.14" y1="199.16" x2="75.76" y2="207.37" stroke="#d4dada" stroke-width="0.67"/>
<line x1="123.18" y1="199.16" x2="75.76" y2="207.37" stroke="#3a4040" stroke-width="1.48"/><line x1="123.18" y1="199.16" x2="75.76" y2="207.37" stroke="#d4dada" stroke-width="0.67"/>
<line x1="123.18" y1="199.16" x2="164.02" y2="207.37" stroke="#3a4040" stroke-width="1.48"/><line x1="123.18" y1="199.16" x2="164.02" y2="207.37" stroke="#d4dada" stroke-width="0.67"/>
<line x1="204.13" y1="199.16" x2="164.02" y2="207.37" stroke="#3a4040" stroke-width="1.48"/><line x1="204.13" y1="199.16" x2="164.02" y2="207.37" stroke="#d4dada" stroke-width="0.67"/>
<line x1="42.14" y1="47.37" x2="42.14" y2="69.34" stroke="#7e8888" stroke-width="1.21"/>
<line x1="42.14" y1="101.00" x2="42.14" y2="122.97" stroke="#7e8888" stroke-width="1.21"/>
<line x1="42.14" y1="69.34" x2="30.03" y2="77.32" stroke="#505050" stroke-width="1.25"/><line x1="42.14" y1="69.34" x2="30.03" y2="77.32" stroke="#c8c8c8" stroke-width="0.41"/>
<line x1="30.03" y1="77.32" x2="30.03" y2="93.02" stroke="#505050" stroke-width="1.25"/><line x1="30.03" y1="77.32" x2="30.03" y2="93.02" stroke="#c8c8c8" stroke-width="0.41"/>
<line x1="30.03" y1="93.02" x2="42.14" y2="101.00" stroke="#505050" stroke-width="1.25"/><line x1="30.03" y1="93.02" x2="42.14" y2="101.00" stroke="#c8c8c8" stroke-width="0.41"/>
<line x1="42.14" y1="69.34" x2="54.25" y2="77.32" stroke="#505050" stroke-width="1.25"/><line x1="42.14" y1="69.34" x2="54.25" y2="77.32" stroke="#c8c8c8" stroke-width="0.41"/>
<line x1="54.25" y1="77.32" x2="54.25" y2="93.02" stroke="#505050" stroke-width="1.25"/><line x1="54.25" y1="77.32" x2="54.25" y2="93.02" stroke="#c8c8c8" stroke-width="0.41"/>
<line x1="54.25" y1="93.02" x2="42.14" y2="101.00" stroke="#505050" stroke-width="1.25"/><line x1="54.25" y1="93.02" x2="42.14" y2="101.00" stroke="#c8c8c8" stroke-width="0.41"/>
<line x1="42.14" y1="69.34" x2="39.18" y2="76.55" stroke="#505050" stroke-width="1.27"/><line x1="42.14" y1="69.34" x2="39.18" y2="76.55" stroke="#c8c8c8" stroke-width="0.42"/>
<line x1="39.18" y1="92.65" x2="42.14" y2="101.00" stroke="#505050" stroke-width="1.27"/><line x1="39.18" y1="92.65" x2="42.14" y2="101.00" stroke="#c8c8c8" stroke-width="0.42"/>
<line x1="123.18" y1="47.37" x2="123.18" y2="69.34" stroke="#7e8888" stroke-width="1.21"/>
<line x1="123.18" y1="101.00" x2="123.18" y2="122.97" stroke="#7e8888" stroke-width="1.21"/>
<line x1="123.18" y1="69.34" x2="111.06" y2="77.32" stroke="#505050" stroke-width="1.25"/><line x1="123.18" y1="69.34" x2="111.06" y2="77.32" stroke="#c8c8c8" stroke-width="0.41"/>
<line x1="111.06" y1="77.32" x2="111.06" y2="93.02" stroke="#505050" stroke-width="1.25"/><line x1="111.06" y1="77.32" x2="111.06" y2="93.02" stroke="#c8c8c8" stroke-width="0.41"/>
<line x1="111.06" y1="93.02" x2="123.18" y2="101.00" stroke="#505050" stroke-width="1.25"/><line x1="111.06" y1="93.02" x2="123.18" y2="101.00" stroke="#c8c8c8" stroke-width="0.41"/>
<line x1="123.18" y1="69.34" x2="135.29" y2="77.32" stroke="#505050" stroke-width="1.25"/><line x1="123.18" y1="69.34" x2="135.29" y2="77.32" stroke="#c8c8c8" stroke-width="0.41"/>
<line x1="135.29" y1="77.32" x2="135.29" y2="93.02" stroke="#505050" stroke-width="1.25"/><line x1="135.29" y1="77.32" x2="135.29" y2="93.02" stroke="#c8c8c8" stroke-width="0.41"/>
<line x1="135.29" y1="93.02" x2="123.18" y2="101.00" stroke="#505050" stroke-width="1.25"/><line x1="135.29" y1="93.02" x2="123.18" y2="101.00" stroke="#c8c8c8" stroke-width="0.41"/>
<line x1="123.18" y1="69.34" x2="122.26" y2="76.55" stroke="#505050" stroke-width="1.27"/><line x1="123.18" y1="69.34" x2="122.26" y2="76.55" stroke="#c8c8c8" stroke-width="0.42"/>
<line x1="122.26" y1="92.65" x2="123.18" y2="101.00" stroke="#505050" stroke-width="1.27"/><line x1="122.26" y1="92.65" x2="123.18" y2="101.00" stroke="#c8c8c8" stroke-width="0.42"/>
<line x1="204.13" y1="47.37" x2="204.13" y2="69.34" stroke="#7e8888" stroke-width="1.21"/>
<line x1="204.13" y1="101.00" x2="204.13" y2="122.97" stroke="#7e8888" stroke-width="1.21"/>
<line x1="204.13" y1="69.34" x2="192.01" y2="77.32" stroke="#505050" stroke-width="1.25"/><line x1="204.13" y1="69.34" x2="192.01" y2="77.32" stroke="#c8c8c8" stroke-width="0.41"/>
<line x1="192.01" y1="77.32" x2="192.01" y2="93.02" stroke="#505050" stroke-width="1.25"/><line x1="192.01" y1="77.32" x2="192.01" y2="93.02" stroke="#c8c8c8" stroke-width="0.41"/>
<line x1="192.01" y1="93.02" x2="204.13" y2="101.00" stroke="#505050" stroke-width="1.25"/><line x1="192.01" y1="93.02" x2="204.13" y2="101.00" stroke="#c8c8c8" stroke-width="0.41"/>
<line x1="204.13" y1="69.34" x2="216.24" y2="77.32" stroke="#505050" stroke-width="1.25"/><line x1="204.13" y1="69.34" x2="216.24" y2="77.32" stroke="#c8c8c8" stroke-width="0.41"/>
<line x1="216.24" y1="77.32" x2="216.24" y2="93.02" stroke="#505050" stroke-width="1.25"/><line x1="216.24" y1="77.32" x2="216.24" y2="93.02" stroke="#c8c8c8" stroke-width="0.41"/>
<line x1="216.24" y1="93.02" x2="204.13" y2="101.00" stroke="#505050" stroke-width="1.25"/><line x1="216.24" y1="93.02" x2="204.13" y2="101.00" stroke="#c8c8c8" stroke-width="0.41"/>
<line x1="204.13" y1="69.34" x2="205.25" y2="76.55" stroke="#505050" stroke-width="1.27"/><line x1="204.13" y1="69.34" x2="205.25" y2="76.55" stroke="#c8c8c8" stroke-width="0.42"/>
<line x1="205.25" y1="92.65" x2="204.13" y2="101.00" stroke="#505050" stroke-width="1.27"/><line x1="205.25" y1="92.65" x2="204.13" y2="101.00" stroke="#c8c8c8" stroke-width="0.42"/>
<line x1="42.14" y1="122.97" x2="42.14" y2="144.94" stroke="#7e8888" stroke-width="1.21"/>
<line x1="42.14" y1="177.19" x2="42.14" y2="199.16" stroke="#7e8888" stroke-width="1.21"/>
<line x1="42.14" y1="144.94" x2="30.03" y2="153.21" stroke="#505050" stroke-width="1.25"/><line x1="42.14" y1="144.94" x2="30.03" y2="153.21" stroke="#c8c8c8" stroke-width="0.41"/>
<line x1="30.03" y1="153.21" x2="30.03" y2="168.92" stroke="#505050" stroke-width="1.25"/><line x1="30.03" y1="153.21" x2="30.03" y2="168.92" stroke="#c8c8c8" stroke-width="0.41"/>
<line x1="30.03" y1="168.92" x2="42.14" y2="177.19" stroke="#505050" stroke-width="1.25"/><line x1="30.03" y1="168.92" x2="42.14" y2="177.19" stroke="#c8c8c8" stroke-width="0.41"/>
<line x1="42.14" y1="144.94" x2="54.25" y2="153.21" stroke="#505050" stroke-width="1.25"/><line x1="42.14" y1="144.94" x2="54.25" y2="153.21" stroke="#c8c8c8" stroke-width="0.41"/>
<line x1="54.25" y1="153.21" x2="54.25" y2="168.92" stroke="#505050" stroke-width="1.25"/><line x1="54.25" y1="153.21" x2="54.25" y2="168.92" stroke="#c8c8c8" stroke-width="0.41"/>
<line x1="54.25" y1="168.92" x2="42.14" y2="177.19" stroke="#505050" stroke-width="1.25"/><line x1="54.25" y1="168.92" x2="42.14" y2="177.19" stroke="#c8c8c8" stroke-width="0.41"/>
<line x1="42.14" y1="144.94" x2="39.18" y2="154.36" stroke="#505050" stroke-width="1.27"/><line x1="42.14" y1="144.94" x2="39.18" y2="154.36" stroke="#c8c8c8" stroke-width="0.42"/>
<line x1="39.18" y1="170.47" x2="42.14" y2="177.19" stroke="#505050" stroke-width="1.27"/><line x1="39.18" y1="170.47" x2="42.14" y2="177.19" stroke="#c8c8c8" stroke-width="0.42"/>
<line x1="123.18" y1="122.97" x2="123.18" y2="144.94" stroke="#7e8888" stroke-width="1.21"/>
<line x1="123.18" y1="177.19" x2="123.18" y2="199.16" stroke="#7e8888" stroke-width="1.21"/>
<line x1="123.18" y1="144.94" x2="111.06" y2="153.21" stroke="#505050" stroke-width="1.25"/><line x1="123.18" y1="144.94" x2="111.06" y2="153.21" stroke="#c8c8c8" stroke-width="0.41"/>
<line x1="111.06" y1="153.21" x2="111.06" y2="168.92" stroke="#505050" stroke-width="1.25"/><line x1="111.06" y1="153.21" x2="111.06" y2="168.92" stroke="#c8c8c8" stroke-width="0.41"/>
<line x1="111.06" y1="168.92" x2="123.18" y2="177.19" stroke="#505050" stroke-width="1.25"/><line x1="111.06" y1="168.92" x2="123.18" y2="177.19" stroke="#c8c8c8" stroke-width="0.41"/>
<line x1="123.18" y1="144.94" x2="135.29" y2="153.21" stroke="#505050" stroke-width="1.25"/><line x1="123.18" y1="144.94" x2="135.29" y2="153.21" stroke="#c8c8c8" stroke-width="0.41"/>
<line x1="135.29" y1="153.21" x2="135.29" y2="168.92" stroke="#505050" stroke-width="1.25"/><line x1="135.29" y1="153.21" x2="135.29" y2="168.92" stroke="#c8c8c8" stroke-width="0.41"/>
<line x1="135.29" y1="168.92" x2="123.18" y2="177.19" stroke="#505050" stroke-width="1.25"/><line x1="135.29" y1="168.92" x2="123.18" y2="177.19" stroke="#c8c8c8" stroke-width="0.41"/>
<line x1="123.18" y1="144.94" x2="122.26" y2="154.36" stroke="#505050" stroke-width="1.27"/><line x1="123.18" y1="144.94" x2="122.26" y2="154.36" stroke="#c8c8c8" stroke-width="0.42"/>
<line x1="122.26" y1="170.47" x2="123.18" y2="177.19" stroke="#505050" stroke-width="1.27"/><line x1="122.26" y1="170.47" x2="123.18" y2="177.19" stroke="#c8c8c8" stroke-width="0.42"/>
<line x1="204.13" y1="122.97" x2="204.13" y2="144.94" stroke="#7e8888" stroke-width="1.21"/>
<line x1="204.13" y1="177.19" x2="204.13" y2="199.16" stroke="#7e8888" stroke-width="1.21"/>
<line x1="204.13" y1="144.94" x2="192.01" y2="153.21" stroke="#505050" stroke-width="1.25"/><line x1="204.13" y1="144.94" x2="192.01" y2="153.21" stroke="#c8c8c8" stroke-width="0.41"/>
<line x1="192.01" y1="153.21" x2="192.01" y2="168.92" stroke="#505050" stroke-width="1.25"/><line x1="192.01" y1="153.21" x2="192.01" y2="168.92" stroke="#c8c8c8" stroke-width="0.41"/>
<line x1="192.01" y1="168.92" x2="204.13" y2="177.19" stroke="#505050" stroke-width="1.25"/><line x1="192.01" y1="168.92" x2="204.13" y2="177.19" stroke="#c8c8c8" stroke-width="0.41"/>
<line x1="204.13" y1="144.94" x2="216.24" y2="153.21" stroke="#505050" stroke-width="1.25"/><line x1="204.13" y1="144.94" x2="216.24" y2="153.21" stroke="#c8c8c8" stroke-width="0.41"/>
<line x1="216.24" y1="153.21" x2="216.24" y2="168.92" stroke="#505050" stroke-width="1.25"/><line x1="216.24" y1="153.21" x2="216.24" y2="168.92" stroke="#c8c8c8" stroke-width="0.41"/>
<line x1="216.24" y1="168.92" x2="204.13" y2="177.19" stroke="#505050" stroke-width="1.25"/><line x1="216.24" y1="168.92" x2="204.13" y2="177.19" stroke="#c8c8c8" stroke-width="0.41"/>
<line x1="204.13" y1="144.94" x2="205.25" y2="154.36" stroke="#505050" stroke-width="1.27"/><line x1="204.13" y1="144.94" x2="205.25" y2="154.36" stroke="#c8c8c8" stroke-width="0.42"/>
<line x1="205.25" y1="170.47" x2="204.13" y2="177.19" stroke="#505050" stroke-width="1.27"/><line x1="205.25" y1="170.47" x2="204.13" y2="177.19" stroke="#c8c8c8" stroke-width="0.42"/>
<circle cx="42.14" cy="47.37" r="4.59" fill="url(#gFe)"/>
<circle cx="123.18" cy="47.37" r="4.59" fill="url(#gFe)"/>
<circle cx="204.13" cy="47.37" r="4.59" fill="url(#gFe)"/>
<circle cx="42.14" cy="122.97" r="4.59" fill="url(#gFe)"/>
<circle cx="123.18" cy="122.97" r="4.59" fill="url(#gFe)"/>
<circle cx="204.13" cy="122.97" r="4.59" fill="url(#gFe)"/>
<circle cx="42.14" cy="199.16" r="4.59" fill="url(#gFe)"/>
<circle cx="123.18" cy="199.16" r="4.59" fill="url(#gFe)"/>
<circle cx="204.13" cy="199.16" r="4.59" fill="url(#gFe)"/>
<circle cx="42.14" cy="69.34" r="2.17" fill="url(#gN)"/>
<circle cx="42.14" cy="101.00" r="2.17" fill="url(#gN)"/>
<circle cx="30.03" cy="77.32" r="2.34" fill="url(#gC)"/>
<circle cx="30.03" cy="93.02" r="2.34" fill="url(#gC)"/>
<circle cx="54.25" cy="77.32" r="2.34" fill="url(#gC)"/>
<circle cx="54.25" cy="93.02" r="2.34" fill="url(#gC)"/>
<circle cx="123.18" cy="69.34" r="2.17" fill="url(#gN)"/>
<circle cx="123.18" cy="101.00" r="2.17" fill="url(#gN)"/>
<circle cx="111.06" cy="77.32" r="2.34" fill="url(#gC)"/>
<circle cx="111.06" cy="93.02" r="2.34" fill="url(#gC)"/>
<circle cx="135.29" cy="77.32" r="2.34" fill="url(#gC)"/>
<circle cx="135.29" cy="93.02" r="2.34" fill="url(#gC)"/>
<circle cx="204.13" cy="69.34" r="2.17" fill="url(#gN)"/>
<circle cx="204.13" cy="101.00" r="2.17" fill="url(#gN)"/>
<circle cx="192.01" cy="77.32" r="2.34" fill="url(#gC)"/>
<circle cx="192.01" cy="93.02" r="2.34" fill="url(#gC)"/>
<circle cx="216.24" cy="77.32" r="2.34" fill="url(#gC)"/>
<circle cx="216.24" cy="93.02" r="2.34" fill="url(#gC)"/>
<circle cx="42.14" cy="144.94" r="2.17" fill="url(#gN)"/>
<circle cx="42.14" cy="177.19" r="2.17" fill="url(#gN)"/>
<circle cx="30.03" cy="153.21" r="2.34" fill="url(#gC)"/>
<circle cx="30.03" cy="168.92" r="2.34" fill="url(#gC)"/>
<circle cx="54.25" cy="153.21" r="2.34" fill="url(#gC)"/>
<circle cx="54.25" cy="168.92" r="2.34" fill="url(#gC)"/>
<circle cx="123.18" cy="144.94" r="2.17" fill="url(#gN)"/>
<circle cx="123.18" cy="177.19" r="2.17" fill="url(#gN)"/>
<circle cx="111.06" cy="153.21" r="2.34" fill="url(#gC)"/>
<circle cx="111.06" cy="168.92" r="2.34" fill="url(#gC)"/>
<circle cx="135.29" cy="153.21" r="2.34" fill="url(#gC)"/>
<circle cx="135.29" cy="168.92" r="2.34" fill="url(#gC)"/>
<circle cx="204.13" cy="144.94" r="2.17" fill="url(#gN)"/>
<circle cx="204.13" cy="177.19" r="2.17" fill="url(#gN)"/>
<circle cx="192.01" cy="153.21" r="2.34" fill="url(#gC)"/>
<circle cx="192.01" cy="168.92" r="2.34" fill="url(#gC)"/>
<circle cx="216.24" cy="153.21" r="2.34" fill="url(#gC)"/>
<circle cx="216.24" cy="168.92" r="2.34" fill="url(#gC)"/>
<line x1="39.18" y1="76.55" x2="39.18" y2="92.65" stroke="#505050" stroke-width="1.28"/><line x1="39.18" y1="76.55" x2="39.18" y2="92.65" stroke="#c8c8c8" stroke-width="0.42"/>
<line x1="122.26" y1="76.55" x2="122.26" y2="92.65" stroke="#505050" stroke-width="1.28"/><line x1="122.26" y1="76.55" x2="122.26" y2="92.65" stroke="#c8c8c8" stroke-width="0.42"/>
<line x1="205.25" y1="76.55" x2="205.25" y2="92.65" stroke="#505050" stroke-width="1.28"/><line x1="205.25" y1="76.55" x2="205.25" y2="92.65" stroke="#c8c8c8" stroke-width="0.42"/>
<line x1="39.18" y1="154.36" x2="39.18" y2="170.47" stroke="#505050" stroke-width="1.28"/><line x1="39.18" y1="154.36" x2="39.18" y2="170.47" stroke="#c8c8c8" stroke-width="0.42"/>
<line x1="122.26" y1="154.36" x2="122.26" y2="170.47" stroke="#505050" stroke-width="1.28"/><line x1="122.26" y1="154.36" x2="122.26" y2="170.47" stroke="#c8c8c8" stroke-width="0.42"/>
<line x1="205.25" y1="154.36" x2="205.25" y2="170.47" stroke="#505050" stroke-width="1.28"/><line x1="205.25" y1="154.36" x2="205.25" y2="170.47" stroke="#c8c8c8" stroke-width="0.42"/>
<circle cx="39.18" cy="76.55" r="2.40" fill="url(#gC)"/>
<circle cx="39.18" cy="92.65" r="2.40" fill="url(#gC)"/>
<circle cx="122.26" cy="76.55" r="2.40" fill="url(#gC)"/>
<circle cx="122.26" cy="92.65" r="2.40" fill="url(#gC)"/>
<circle cx="205.25" cy="76.55" r="2.40" fill="url(#gC)"/>
<circle cx="205.25" cy="92.65" r="2.40" fill="url(#gC)"/>
<circle cx="39.18" cy="154.36" r="2.40" fill="url(#gC)"/>
<circle cx="39.18" cy="170.47" r="2.40" fill="url(#gC)"/>
<circle cx="122.26" cy="154.36" r="2.40" fill="url(#gC)"/>
<circle cx="122.26" cy="170.47" r="2.40" fill="url(#gC)"/>
<circle cx="205.25" cy="154.36" r="2.40" fill="url(#gC)"/>
<circle cx="205.25" cy="170.47" r="2.40" fill="url(#gC)"/>
<circle cx="54.90" cy="45.32" r="2.07" fill="url(#gN)"/>
<circle cx="105.18" cy="45.32" r="2.07" fill="url(#gN)"/>
<circle cx="138.68" cy="45.32" r="2.07" fill="url(#gN)"/>
<circle cx="188.90" cy="45.32" r="2.07" fill="url(#gN)"/>
<circle cx="54.90" cy="123.49" r="2.07" fill="url(#gN)"/>
<circle cx="105.18" cy="123.49" r="2.07" fill="url(#gN)"/>
<circle cx="138.68" cy="123.49" r="2.07" fill="url(#gN)"/>
<circle cx="188.90" cy="123.49" r="2.07" fill="url(#gN)"/>
<circle cx="54.90" cy="202.28" r="2.07" fill="url(#gN)"/>
<circle cx="105.18" cy="202.28" r="2.07" fill="url(#gN)"/>
<circle cx="138.68" cy="202.28" r="2.07" fill="url(#gN)"/>
<circle cx="188.90" cy="202.28" r="2.07" fill="url(#gN)"/>
<circle cx="62.30" cy="44.13" r="2.02" fill="url(#gC)"/>
<circle cx="94.75" cy="44.13" r="2.02" fill="url(#gC)"/>
<circle cx="147.66" cy="44.13" r="2.02" fill="url(#gC)"/>
<circle cx="180.08" cy="44.13" r="2.02" fill="url(#gC)"/>
<circle cx="62.30" cy="123.80" r="2.02" fill="url(#gC)"/>
<circle cx="94.75" cy="123.80" r="2.02" fill="url(#gC)"/>
<circle cx="147.66" cy="123.80" r="2.02" fill="url(#gC)"/>
<circle cx="180.08" cy="123.80" r="2.02" fill="url(#gC)"/>
<circle cx="62.30" cy="204.08" r="2.02" fill="url(#gC)"/>
<circle cx="94.75" cy="204.08" r="2.02" fill="url(#gC)"/>
<circle cx="147.66" cy="204.08" r="2.02" fill="url(#gC)"/>
<circle cx="180.08" cy="204.08" r="2.02" fill="url(#gC)"/>
<line x1="19.00" y1="35.50" x2="75.76" y2="41.97" stroke="#3a4040" stroke-width="1.62"/><line x1="19.00" y1="35.50" x2="75.76" y2="41.97" stroke="#d4dada" stroke-width="0.73"/>
<line x1="116.00" y1="35.50" x2="75.76" y2="41.97" stroke="#3a4040" stroke-width="1.62"/><line x1="116.00" y1="35.50" x2="75.76" y2="41.97" stroke="#d4dada" stroke-width="0.73"/>
<line x1="116.00" y1="35.50" x2="164.02" y2="41.97" stroke="#3a4040" stroke-width="1.62"/><line x1="116.00" y1="35.50" x2="164.02" y2="41.97" stroke="#d4dada" stroke-width="0.73"/>
<line x1="212.90" y1="35.50" x2="164.02" y2="41.97" stroke="#3a4040" stroke-width="1.62"/><line x1="212.90" y1="35.50" x2="164.02" y2="41.97" stroke="#d4dada" stroke-width="0.73"/>
<line x1="164.02" y1="41.97" x2="164.02" y2="8.74" stroke="#7e8888" stroke-width="1.32"/>
<line x1="164.02" y1="41.97" x2="164.02" y2="75.19" stroke="#7e8888" stroke-width="1.32"/>
<line x1="19.00" y1="126.00" x2="75.76" y2="124.35" stroke="#3a4040" stroke-width="1.62"/><line x1="19.00" y1="126.00" x2="75.76" y2="124.35" stroke="#d4dada" stroke-width="0.73"/>
<line x1="116.00" y1="126.00" x2="75.76" y2="124.35" stroke="#3a4040" stroke-width="1.62"/><line x1="116.00" y1="126.00" x2="75.76" y2="124.35" stroke="#d4dada" stroke-width="0.73"/>
<line x1="75.76" y1="124.35" x2="75.76" y2="91.12" stroke="#7e8888" stroke-width="1.32"/>
<line x1="75.76" y1="124.35" x2="75.76" y2="157.58" stroke="#7e8888" stroke-width="1.32"/>
<line x1="116.00" y1="126.00" x2="164.02" y2="124.35" stroke="#3a4040" stroke-width="1.62"/><line x1="116.00" y1="126.00" x2="164.02" y2="124.35" stroke="#d4dada" stroke-width="0.73"/>
<line x1="212.90" y1="126.00" x2="164.02" y2="124.35" stroke="#3a4040" stroke-width="1.62"/><line x1="212.90" y1="126.00" x2="164.02" y2="124.35" stroke="#d4dada" stroke-width="0.73"/>
<line x1="19.00" y1="217.20" x2="75.76" y2="207.37" stroke="#3a4040" stroke-width="1.62"/><line x1="19.00" y1="217.20" x2="75.76" y2="207.37" stroke="#d4dada" stroke-width="0.73"/>
<line x1="116.00" y1="217.20" x2="75.76" y2="207.37" stroke="#3a4040" stroke-width="1.62"/><line x1="116.00" y1="217.20" x2="75.76" y2="207.37" stroke="#d4dada" stroke-width="0.73"/>
<line x1="116.00" y1="217.20" x2="164.02" y2="207.37" stroke="#3a4040" stroke-width="1.62"/><line x1="116.00" y1="217.20" x2="164.02" y2="207.37" stroke="#d4dada" stroke-width="0.73"/>
<line x1="212.90" y1="217.20" x2="164.02" y2="207.37" stroke="#3a4040" stroke-width="1.62"/><line x1="212.90" y1="217.20" x2="164.02" y2="207.37" stroke="#d4dada" stroke-width="0.73"/>
<line x1="164.02" y1="207.37" x2="164.02" y2="174.15" stroke="#7e8888" stroke-width="1.32"/>
<line x1="164.02" y1="207.37" x2="164.02" y2="240.60" stroke="#7e8888" stroke-width="1.32"/>
<circle cx="75.76" cy="41.97" r="4.19" fill="url(#gPt2)"/>
<circle cx="164.02" cy="41.97" r="5.46" fill="url(#gPt4)"/>
<circle cx="164.02" cy="8.74" r="3.64" fill="url(#gI)"/>
<circle cx="164.02" cy="75.19" r="3.64" fill="url(#gI)"/>
<circle cx="75.76" cy="124.35" r="5.46" fill="url(#gPt4)"/>
<circle cx="75.76" cy="91.12" r="3.64" fill="url(#gI)"/>
<circle cx="75.76" cy="157.58" r="3.64" fill="url(#gI)"/>
<circle cx="164.02" cy="124.35" r="4.19" fill="url(#gPt2)"/>
<circle cx="75.76" cy="207.37" r="4.19" fill="url(#gPt2)"/>
<circle cx="164.02" cy="207.37" r="5.46" fill="url(#gPt4)"/>
<circle cx="164.02" cy="174.15" r="3.64" fill="url(#gI)"/>
<circle cx="164.02" cy="240.60" r="3.64" fill="url(#gI)"/>
<circle cx="55.43" cy="39.65" r="2.17" fill="url(#gC)"/>
<circle cx="90.17" cy="39.65" r="2.17" fill="url(#gC)"/>
<circle cx="146.82" cy="39.65" r="2.17" fill="url(#gC)"/>
<circle cx="181.52" cy="39.65" r="2.17" fill="url(#gC)"/>
<circle cx="55.43" cy="124.94" r="2.17" fill="url(#gC)"/>
<circle cx="90.17" cy="124.94" r="2.17" fill="url(#gC)"/>
<circle cx="146.82" cy="124.94" r="2.17" fill="url(#gC)"/>
<circle cx="181.52" cy="124.94" r="2.17" fill="url(#gC)"/>
<circle cx="55.43" cy="210.89" r="2.17" fill="url(#gC)"/>
<circle cx="90.17" cy="210.89" r="2.17" fill="url(#gC)"/>
<circle cx="146.82" cy="210.89" r="2.17" fill="url(#gC)"/>
<circle cx="181.52" cy="210.89" r="2.17" fill="url(#gC)"/>
<circle cx="42.99" cy="38.23" r="2.31" fill="url(#gN)"/>
<circle cx="98.99" cy="38.23" r="2.31" fill="url(#gN)"/>
<circle cx="136.30" cy="38.23" r="2.31" fill="url(#gN)"/>
<circle cx="192.23" cy="38.23" r="2.31" fill="url(#gN)"/>
<circle cx="42.99" cy="125.30" r="2.31" fill="url(#gN)"/>
<circle cx="98.99" cy="125.30" r="2.31" fill="url(#gN)"/>
<circle cx="136.30" cy="125.30" r="2.31" fill="url(#gN)"/>
<circle cx="192.23" cy="125.30" r="2.31" fill="url(#gN)"/>
<circle cx="42.99" cy="213.05" r="2.31" fill="url(#gN)"/>
<circle cx="98.99" cy="213.05" r="2.31" fill="url(#gN)"/>
<circle cx="136.30" cy="213.05" r="2.31" fill="url(#gN)"/>
<circle cx="192.23" cy="213.05" r="2.31" fill="url(#gN)"/>
<line x1="19.00" y1="61.80" x2="23.02" y2="72.39" stroke="#505050" stroke-width="1.48"/><line x1="19.00" y1="61.80" x2="23.02" y2="72.39" stroke="#c8c8c8" stroke-width="0.49"/>
<line x1="23.02" y1="72.39" x2="23.02" y2="90.65" stroke="#505050" stroke-width="1.46"/><line x1="23.02" y1="72.39" x2="23.02" y2="90.65" stroke="#c8c8c8" stroke-width="0.48"/>
<line x1="23.02" y1="90.65" x2="19.00" y2="99.70" stroke="#505050" stroke-width="1.48"/><line x1="23.02" y1="90.65" x2="19.00" y2="99.70" stroke="#c8c8c8" stroke-width="0.49"/>
<line x1="116.00" y1="61.80" x2="117.25" y2="72.39" stroke="#505050" stroke-width="1.48"/><line x1="116.00" y1="61.80" x2="117.25" y2="72.39" stroke="#c8c8c8" stroke-width="0.49"/>
<line x1="117.25" y1="72.39" x2="117.25" y2="90.65" stroke="#505050" stroke-width="1.46"/><line x1="117.25" y1="72.39" x2="117.25" y2="90.65" stroke="#c8c8c8" stroke-width="0.48"/>
<line x1="117.25" y1="90.65" x2="116.00" y2="99.70" stroke="#505050" stroke-width="1.48"/><line x1="117.25" y1="90.65" x2="116.00" y2="99.70" stroke="#c8c8c8" stroke-width="0.49"/>
<line x1="212.90" y1="61.80" x2="211.38" y2="72.39" stroke="#505050" stroke-width="1.48"/><line x1="212.90" y1="61.80" x2="211.38" y2="72.39" stroke="#c8c8c8" stroke-width="0.49"/>
<line x1="211.38" y1="72.39" x2="211.38" y2="90.65" stroke="#505050" stroke-width="1.46"/><line x1="211.38" y1="72.39" x2="211.38" y2="90.65" stroke="#c8c8c8" stroke-width="0.48"/>
<line x1="211.38" y1="90.65" x2="212.90" y2="99.70" stroke="#505050" stroke-width="1.48"/><line x1="211.38" y1="90.65" x2="212.90" y2="99.70" stroke="#c8c8c8" stroke-width="0.49"/>
<line x1="19.00" y1="152.30" x2="23.02" y2="160.64" stroke="#505050" stroke-width="1.48"/><line x1="19.00" y1="152.30" x2="23.02" y2="160.64" stroke="#c8c8c8" stroke-width="0.49"/>
<line x1="23.02" y1="160.64" x2="23.02" y2="178.90" stroke="#505050" stroke-width="1.46"/><line x1="23.02" y1="160.64" x2="23.02" y2="178.90" stroke="#c8c8c8" stroke-width="0.48"/>
<line x1="23.02" y1="178.90" x2="19.00" y2="190.90" stroke="#505050" stroke-width="1.48"/><line x1="23.02" y1="178.90" x2="19.00" y2="190.90" stroke="#c8c8c8" stroke-width="0.49"/>
<line x1="116.00" y1="152.30" x2="117.25" y2="160.64" stroke="#505050" stroke-width="1.48"/><line x1="116.00" y1="152.30" x2="117.25" y2="160.64" stroke="#c8c8c8" stroke-width="0.49"/>
<line x1="117.25" y1="160.64" x2="117.25" y2="178.90" stroke="#505050" stroke-width="1.46"/><line x1="117.25" y1="160.64" x2="117.25" y2="178.90" stroke="#c8c8c8" stroke-width="0.48"/>
<line x1="117.25" y1="178.90" x2="116.00" y2="190.90" stroke="#505050" stroke-width="1.48"/><line x1="117.25" y1="178.90" x2="116.00" y2="190.90" stroke="#c8c8c8" stroke-width="0.49"/>
<line x1="212.90" y1="152.30" x2="211.38" y2="160.64" stroke="#505050" stroke-width="1.48"/><line x1="212.90" y1="152.30" x2="211.38" y2="160.64" stroke="#c8c8c8" stroke-width="0.49"/>
<line x1="211.38" y1="160.64" x2="211.38" y2="178.90" stroke="#505050" stroke-width="1.46"/><line x1="211.38" y1="160.64" x2="211.38" y2="178.90" stroke="#c8c8c8" stroke-width="0.48"/>
<line x1="211.38" y1="178.90" x2="212.90" y2="190.90" stroke="#505050" stroke-width="1.48"/><line x1="211.38" y1="178.90" x2="212.90" y2="190.90" stroke="#c8c8c8" stroke-width="0.49"/>
<circle cx="23.02" cy="72.39" r="2.72" fill="url(#gC)"/>
<circle cx="23.02" cy="90.65" r="2.72" fill="url(#gC)"/>
<circle cx="117.25" cy="72.39" r="2.72" fill="url(#gC)"/>
<circle cx="117.25" cy="90.65" r="2.72" fill="url(#gC)"/>
<circle cx="211.38" cy="72.39" r="2.72" fill="url(#gC)"/>
<circle cx="211.38" cy="90.65" r="2.72" fill="url(#gC)"/>
<circle cx="23.02" cy="160.64" r="2.72" fill="url(#gC)"/>
<circle cx="23.02" cy="178.90" r="2.72" fill="url(#gC)"/>
<circle cx="117.25" cy="160.64" r="2.72" fill="url(#gC)"/>
<circle cx="117.25" cy="178.90" r="2.72" fill="url(#gC)"/>
<circle cx="211.38" cy="160.64" r="2.72" fill="url(#gC)"/>
<circle cx="211.38" cy="178.90" r="2.72" fill="url(#gC)"/>
<line x1="19.00" y1="35.50" x2="19.00" y2="61.80" stroke="#7e8888" stroke-width="1.45"/>
<line x1="19.00" y1="99.70" x2="19.00" y2="126.00" stroke="#7e8888" stroke-width="1.45"/>
<line x1="19.00" y1="61.80" x2="4.50" y2="71.35" stroke="#505050" stroke-width="1.50"/><line x1="19.00" y1="61.80" x2="4.50" y2="71.35" stroke="#c8c8c8" stroke-width="0.49"/>
<line x1="4.50" y1="71.35" x2="4.50" y2="90.15" stroke="#505050" stroke-width="1.50"/><line x1="4.50" y1="71.35" x2="4.50" y2="90.15" stroke="#c8c8c8" stroke-width="0.49"/>
<line x1="4.50" y1="90.15" x2="19.00" y2="99.70" stroke="#505050" stroke-width="1.50"/><line x1="4.50" y1="90.15" x2="19.00" y2="99.70" stroke="#c8c8c8" stroke-width="0.49"/>
<line x1="19.00" y1="61.80" x2="33.50" y2="71.35" stroke="#505050" stroke-width="1.50"/><line x1="19.00" y1="61.80" x2="33.50" y2="71.35" stroke="#c8c8c8" stroke-width="0.49"/>
<line x1="33.50" y1="71.35" x2="33.50" y2="90.15" stroke="#505050" stroke-width="1.50"/><line x1="33.50" y1="71.35" x2="33.50" y2="90.15" stroke="#c8c8c8" stroke-width="0.49"/>
<line x1="33.50" y1="90.15" x2="19.00" y2="99.70" stroke="#505050" stroke-width="1.50"/><line x1="33.50" y1="90.15" x2="19.00" y2="99.70" stroke="#c8c8c8" stroke-width="0.49"/>
<line x1="19.00" y1="61.80" x2="14.73" y2="70.25" stroke="#505050" stroke-width="1.52"/><line x1="19.00" y1="61.80" x2="14.73" y2="70.25" stroke="#c8c8c8" stroke-width="0.50"/>
<line x1="14.73" y1="89.62" x2="19.00" y2="99.70" stroke="#505050" stroke-width="1.52"/><line x1="14.73" y1="89.62" x2="19.00" y2="99.70" stroke="#c8c8c8" stroke-width="0.50"/>
<line x1="116.00" y1="35.50" x2="116.00" y2="61.80" stroke="#7e8888" stroke-width="1.45"/>
<line x1="116.00" y1="99.70" x2="116.00" y2="126.00" stroke="#7e8888" stroke-width="1.45"/>
<line x1="116.00" y1="61.80" x2="101.50" y2="71.35" stroke="#505050" stroke-width="1.50"/><line x1="116.00" y1="61.80" x2="101.50" y2="71.35" stroke="#c8c8c8" stroke-width="0.49"/>
<line x1="101.50" y1="71.35" x2="101.50" y2="90.15" stroke="#505050" stroke-width="1.50"/><line x1="101.50" y1="71.35" x2="101.50" y2="90.15" stroke="#c8c8c8" stroke-width="0.49"/>
<line x1="101.50" y1="90.15" x2="116.00" y2="99.70" stroke="#505050" stroke-width="1.50"/><line x1="101.50" y1="90.15" x2="116.00" y2="99.70" stroke="#c8c8c8" stroke-width="0.49"/>
<line x1="116.00" y1="61.80" x2="130.50" y2="71.35" stroke="#505050" stroke-width="1.50"/><line x1="116.00" y1="61.80" x2="130.50" y2="71.35" stroke="#c8c8c8" stroke-width="0.49"/>
<line x1="130.50" y1="71.35" x2="130.50" y2="90.15" stroke="#505050" stroke-width="1.50"/><line x1="130.50" y1="71.35" x2="130.50" y2="90.15" stroke="#c8c8c8" stroke-width="0.49"/>
<line x1="130.50" y1="90.15" x2="116.00" y2="99.70" stroke="#505050" stroke-width="1.50"/><line x1="130.50" y1="90.15" x2="116.00" y2="99.70" stroke="#c8c8c8" stroke-width="0.49"/>
<line x1="116.00" y1="61.80" x2="114.68" y2="70.25" stroke="#505050" stroke-width="1.52"/><line x1="116.00" y1="61.80" x2="114.68" y2="70.25" stroke="#c8c8c8" stroke-width="0.50"/>
<line x1="114.68" y1="89.62" x2="116.00" y2="99.70" stroke="#505050" stroke-width="1.52"/><line x1="114.68" y1="89.62" x2="116.00" y2="99.70" stroke="#c8c8c8" stroke-width="0.50"/>
<line x1="212.90" y1="35.50" x2="212.90" y2="61.80" stroke="#7e8888" stroke-width="1.45"/>
<line x1="212.90" y1="99.70" x2="212.90" y2="126.00" stroke="#7e8888" stroke-width="1.45"/>
<line x1="212.90" y1="61.80" x2="198.40" y2="71.35" stroke="#505050" stroke-width="1.50"/><line x1="212.90" y1="61.80" x2="198.40" y2="71.35" stroke="#c8c8c8" stroke-width="0.49"/>
<line x1="198.40" y1="71.35" x2="198.40" y2="90.15" stroke="#505050" stroke-width="1.50"/><line x1="198.40" y1="71.35" x2="198.40" y2="90.15" stroke="#c8c8c8" stroke-width="0.49"/>
<line x1="198.40" y1="90.15" x2="212.90" y2="99.70" stroke="#505050" stroke-width="1.50"/><line x1="198.40" y1="90.15" x2="212.90" y2="99.70" stroke="#c8c8c8" stroke-width="0.49"/>
<line x1="212.90" y1="61.80" x2="227.40" y2="71.35" stroke="#505050" stroke-width="1.50"/><line x1="212.90" y1="61.80" x2="227.40" y2="71.35" stroke="#c8c8c8" stroke-width="0.49"/>
<line x1="227.40" y1="71.35" x2="227.40" y2="90.15" stroke="#505050" stroke-width="1.50"/><line x1="227.40" y1="71.35" x2="227.40" y2="90.15" stroke="#c8c8c8" stroke-width="0.49"/>
<line x1="227.40" y1="90.15" x2="212.90" y2="99.70" stroke="#505050" stroke-width="1.50"/><line x1="227.40" y1="90.15" x2="212.90" y2="99.70" stroke="#c8c8c8" stroke-width="0.49"/>
<line x1="212.90" y1="61.80" x2="214.52" y2="70.25" stroke="#505050" stroke-width="1.52"/><line x1="212.90" y1="61.80" x2="214.52" y2="70.25" stroke="#c8c8c8" stroke-width="0.50"/>
<line x1="214.52" y1="89.62" x2="212.90" y2="99.70" stroke="#505050" stroke-width="1.52"/><line x1="214.52" y1="89.62" x2="212.90" y2="99.70" stroke="#c8c8c8" stroke-width="0.50"/>
<line x1="19.00" y1="126.00" x2="19.00" y2="152.30" stroke="#7e8888" stroke-width="1.45"/>
<line x1="19.00" y1="190.90" x2="19.00" y2="217.20" stroke="#7e8888" stroke-width="1.45"/>
<line x1="19.00" y1="152.30" x2="4.50" y2="162.20" stroke="#505050" stroke-width="1.50"/><line x1="19.00" y1="152.30" x2="4.50" y2="162.20" stroke="#c8c8c8" stroke-width="0.49"/>
<line x1="4.50" y1="162.20" x2="4.50" y2="181.00" stroke="#505050" stroke-width="1.50"/><line x1="4.50" y1="162.20" x2="4.50" y2="181.00" stroke="#c8c8c8" stroke-width="0.49"/>
<line x1="4.50" y1="181.00" x2="19.00" y2="190.90" stroke="#505050" stroke-width="1.50"/><line x1="4.50" y1="181.00" x2="19.00" y2="190.90" stroke="#c8c8c8" stroke-width="0.49"/>
<line x1="19.00" y1="152.30" x2="33.50" y2="162.20" stroke="#505050" stroke-width="1.50"/><line x1="19.00" y1="152.30" x2="33.50" y2="162.20" stroke="#c8c8c8" stroke-width="0.49"/>
<line x1="33.50" y1="162.20" x2="33.50" y2="181.00" stroke="#505050" stroke-width="1.50"/><line x1="33.50" y1="162.20" x2="33.50" y2="181.00" stroke="#c8c8c8" stroke-width="0.49"/>
<line x1="33.50" y1="181.00" x2="19.00" y2="190.90" stroke="#505050" stroke-width="1.50"/><line x1="33.50" y1="181.00" x2="19.00" y2="190.90" stroke="#c8c8c8" stroke-width="0.49"/>
<line x1="19.00" y1="152.30" x2="14.73" y2="163.86" stroke="#505050" stroke-width="1.52"/><line x1="19.00" y1="152.30" x2="14.73" y2="163.86" stroke="#c8c8c8" stroke-width="0.50"/>
<line x1="14.73" y1="183.23" x2="19.00" y2="190.90" stroke="#505050" stroke-width="1.52"/><line x1="14.73" y1="183.23" x2="19.00" y2="190.90" stroke="#c8c8c8" stroke-width="0.50"/>
<line x1="116.00" y1="126.00" x2="116.00" y2="152.30" stroke="#7e8888" stroke-width="1.45"/>
<line x1="116.00" y1="190.90" x2="116.00" y2="217.20" stroke="#7e8888" stroke-width="1.45"/>
<line x1="116.00" y1="152.30" x2="101.50" y2="162.20" stroke="#505050" stroke-width="1.50"/><line x1="116.00" y1="152.30" x2="101.50" y2="162.20" stroke="#c8c8c8" stroke-width="0.49"/>
<line x1="101.50" y1="162.20" x2="101.50" y2="181.00" stroke="#505050" stroke-width="1.50"/><line x1="101.50" y1="162.20" x2="101.50" y2="181.00" stroke="#c8c8c8" stroke-width="0.49"/>
<line x1="101.50" y1="181.00" x2="116.00" y2="190.90" stroke="#505050" stroke-width="1.50"/><line x1="101.50" y1="181.00" x2="116.00" y2="190.90" stroke="#c8c8c8" stroke-width="0.49"/>
<line x1="116.00" y1="152.30" x2="130.50" y2="162.20" stroke="#505050" stroke-width="1.50"/><line x1="116.00" y1="152.30" x2="130.50" y2="162.20" stroke="#c8c8c8" stroke-width="0.49"/>
<line x1="130.50" y1="162.20" x2="130.50" y2="181.00" stroke="#505050" stroke-width="1.50"/><line x1="130.50" y1="162.20" x2="130.50" y2="181.00" stroke="#c8c8c8" stroke-width="0.49"/>
<line x1="130.50" y1="181.00" x2="116.00" y2="190.90" stroke="#505050" stroke-width="1.50"/><line x1="130.50" y1="181.00" x2="116.00" y2="190.90" stroke="#c8c8c8" stroke-width="0.49"/>
<line x1="116.00" y1="152.30" x2="114.68" y2="163.86" stroke="#505050" stroke-width="1.52"/><line x1="116.00" y1="152.30" x2="114.68" y2="163.86" stroke="#c8c8c8" stroke-width="0.50"/>
<line x1="114.68" y1="183.23" x2="116.00" y2="190.90" stroke="#505050" stroke-width="1.52"/><line x1="114.68" y1="183.23" x2="116.00" y2="190.90" stroke="#c8c8c8" stroke-width="0.50"/>
<line x1="212.90" y1="126.00" x2="212.90" y2="152.30" stroke="#7e8888" stroke-width="1.45"/>
<line x1="212.90" y1="190.90" x2="212.90" y2="217.20" stroke="#7e8888" stroke-width="1.45"/>
<line x1="212.90" y1="152.30" x2="198.40" y2="162.20" stroke="#505050" stroke-width="1.50"/><line x1="212.90" y1="152.30" x2="198.40" y2="162.20" stroke="#c8c8c8" stroke-width="0.49"/>
<line x1="198.40" y1="162.20" x2="198.40" y2="181.00" stroke="#505050" stroke-width="1.50"/><line x1="198.40" y1="162.20" x2="198.40" y2="181.00" stroke="#c8c8c8" stroke-width="0.49"/>
<line x1="198.40" y1="181.00" x2="212.90" y2="190.90" stroke="#505050" stroke-width="1.50"/><line x1="198.40" y1="181.00" x2="212.90" y2="190.90" stroke="#c8c8c8" stroke-width="0.49"/>
<line x1="212.90" y1="152.30" x2="227.40" y2="162.20" stroke="#505050" stroke-width="1.50"/><line x1="212.90" y1="152.30" x2="227.40" y2="162.20" stroke="#c8c8c8" stroke-width="0.49"/>
<line x1="227.40" y1="162.20" x2="227.40" y2="181.00" stroke="#505050" stroke-width="1.50"/><line x1="227.40" y1="162.20" x2="227.40" y2="181.00" stroke="#c8c8c8" stroke-width="0.49"/>
<line x1="227.40" y1="181.00" x2="212.90" y2="190.90" stroke="#505050" stroke-width="1.50"/><line x1="227.40" y1="181.00" x2="212.90" y2="190.90" stroke="#c8c8c8" stroke-width="0.49"/>
<line x1="212.90" y1="152.30" x2="214.52" y2="163.86" stroke="#505050" stroke-width="1.52"/><line x1="212.90" y1="152.30" x2="214.52" y2="163.86" stroke="#c8c8c8" stroke-width="0.50"/>
<line x1="214.52" y1="183.23" x2="212.90" y2="190.90" stroke="#505050" stroke-width="1.52"/><line x1="214.52" y1="183.23" x2="212.90" y2="190.90" stroke="#c8c8c8" stroke-width="0.50"/>
<circle cx="19.00" cy="35.50" r="5.50" fill="url(#gFe)"/>
<circle cx="116.00" cy="35.50" r="5.50" fill="url(#gFe)"/>
<circle cx="212.90" cy="35.50" r="5.50" fill="url(#gFe)"/>
<circle cx="19.00" cy="126.00" r="5.50" fill="url(#gFe)"/>
<circle cx="116.00" cy="126.00" r="5.50" fill="url(#gFe)"/>
<circle cx="212.90" cy="126.00" r="5.50" fill="url(#gFe)"/>
<circle cx="19.00" cy="217.20" r="5.50" fill="url(#gFe)"/>
<circle cx="116.00" cy="217.20" r="5.50" fill="url(#gFe)"/>
<circle cx="212.90" cy="217.20" r="5.50" fill="url(#gFe)"/>
<circle cx="19.00" cy="61.80" r="2.60" fill="url(#gN)"/>
<circle cx="19.00" cy="99.70" r="2.60" fill="url(#gN)"/>
<circle cx="4.50" cy="71.35" r="2.80" fill="url(#gC)"/>
<circle cx="4.50" cy="90.15" r="2.80" fill="url(#gC)"/>
<circle cx="33.50" cy="71.35" r="2.80" fill="url(#gC)"/>
<circle cx="33.50" cy="90.15" r="2.80" fill="url(#gC)"/>
<circle cx="116.00" cy="61.80" r="2.60" fill="url(#gN)"/>
<circle cx="116.00" cy="99.70" r="2.60" fill="url(#gN)"/>
<circle cx="101.50" cy="71.35" r="2.80" fill="url(#gC)"/>
<circle cx="101.50" cy="90.15" r="2.80" fill="url(#gC)"/>
<circle cx="130.50" cy="71.35" r="2.80" fill="url(#gC)"/>
<circle cx="130.50" cy="90.15" r="2.80" fill="url(#gC)"/>
<circle cx="212.90" cy="61.80" r="2.60" fill="url(#gN)"/>
<circle cx="212.90" cy="99.70" r="2.60" fill="url(#gN)"/>
<circle cx="198.40" cy="71.35" r="2.80" fill="url(#gC)"/>
<circle cx="198.40" cy="90.15" r="2.80" fill="url(#gC)"/>
<circle cx="227.40" cy="71.35" r="2.80" fill="url(#gC)"/>
<circle cx="227.40" cy="90.15" r="2.80" fill="url(#gC)"/>
<circle cx="19.00" cy="152.30" r="2.60" fill="url(#gN)"/>
<circle cx="19.00" cy="190.90" r="2.60" fill="url(#gN)"/>
<circle cx="4.50" cy="162.20" r="2.80" fill="url(#gC)"/>
<circle cx="4.50" cy="181.00" r="2.80" fill="url(#gC)"/>
<circle cx="33.50" cy="162.20" r="2.80" fill="url(#gC)"/>
<circle cx="33.50" cy="181.00" r="2.80" fill="url(#gC)"/>
<circle cx="116.00" cy="152.30" r="2.60" fill="url(#gN)"/>
<circle cx="116.00" cy="190.90" r="2.60" fill="url(#gN)"/>
<circle cx="101.50" cy="162.20" r="2.80" fill="url(#gC)"/>
<circle cx="101.50" cy="181.00" r="2.80" fill="url(#gC)"/>
<circle cx="130.50" cy="162.20" r="2.80" fill="url(#gC)"/>
<circle cx="130.50" cy="181.00" r="2.80" fill="url(#gC)"/>
<circle cx="212.90" cy="152.30" r="2.60" fill="url(#gN)"/>
<circle cx="212.90" cy="190.90" r="2.60" fill="url(#gN)"/>
<circle cx="198.40" cy="162.20" r="2.80" fill="url(#gC)"/>
<circle cx="198.40" cy="181.00" r="2.80" fill="url(#gC)"/>
<circle cx="227.40" cy="162.20" r="2.80" fill="url(#gC)"/>
<circle cx="227.40" cy="181.00" r="2.80" fill="url(#gC)"/>
<line x1="14.73" y1="70.25" x2="14.73" y2="89.62" stroke="#505050" stroke-width="1.55"/><line x1="14.73" y1="70.25" x2="14.73" y2="89.62" stroke="#c8c8c8" stroke-width="0.51"/>
<line x1="114.68" y1="70.25" x2="114.68" y2="89.62" stroke="#505050" stroke-width="1.55"/><line x1="114.68" y1="70.25" x2="114.68" y2="89.62" stroke="#c8c8c8" stroke-width="0.51"/>
<line x1="214.52" y1="70.25" x2="214.52" y2="89.62" stroke="#505050" stroke-width="1.55"/><line x1="214.52" y1="70.25" x2="214.52" y2="89.62" stroke="#c8c8c8" stroke-width="0.51"/>
<line x1="14.73" y1="163.86" x2="14.73" y2="183.23" stroke="#505050" stroke-width="1.55"/><line x1="14.73" y1="163.86" x2="14.73" y2="183.23" stroke="#c8c8c8" stroke-width="0.51"/>
<line x1="114.68" y1="163.86" x2="114.68" y2="183.23" stroke="#505050" stroke-width="1.55"/><line x1="114.68" y1="163.86" x2="114.68" y2="183.23" stroke="#c8c8c8" stroke-width="0.51"/>
<line x1="214.52" y1="163.86" x2="214.52" y2="183.23" stroke="#505050" stroke-width="1.55"/><line x1="214.52" y1="163.86" x2="214.52" y2="183.23" stroke="#c8c8c8" stroke-width="0.51"/>
<circle cx="14.73" cy="70.25" r="2.88" fill="url(#gC)"/>
<circle cx="14.73" cy="89.62" r="2.88" fill="url(#gC)"/>
<circle cx="114.68" cy="70.25" r="2.88" fill="url(#gC)"/>
<circle cx="114.68" cy="89.62" r="2.88" fill="url(#gC)"/>
<circle cx="214.52" cy="70.25" r="2.88" fill="url(#gC)"/>
<circle cx="214.52" cy="89.62" r="2.88" fill="url(#gC)"/>
<circle cx="14.73" cy="163.86" r="2.88" fill="url(#gC)"/>
<circle cx="14.73" cy="183.23" r="2.88" fill="url(#gC)"/>
<circle cx="114.68" cy="163.86" r="2.88" fill="url(#gC)"/>
<circle cx="114.68" cy="183.23" r="2.88" fill="url(#gC)"/>
<circle cx="214.52" cy="163.86" r="2.88" fill="url(#gC)"/>
<circle cx="214.52" cy="183.23" r="2.88" fill="url(#gC)"/>
</g>
<text x="69" y="31.8" class="lab">Pt<tspan font-size="6.8" dy="-4.2">II</tspan></text>
<text x="168.6" y="32.2" class="lab">Pt<tspan font-size="6.8" dy="-4">IV</tspan></text>
<text x="172.2" y="9.6" class="lab">I</text>
<text x="206" y="23.7" class="lab">Fe</text>
<text x="107.6" y="262.3" class="cap">(a)</text>
<g id="chart">
<path d="M416.50 33.50L400.00 34.50L385.00 35.50L372.00 37.50L364.00 40.00L361.80 42.90L357.90 64.50L355.30 109.40L352.00 146.40L349.60 154.00L343.60 163.00L330.00 169.00L316.50 174.30L309.00 175.80L303.00 178.50L296.00 180.00" fill="none" stroke="#99ccff" stroke-width="1.1"/>
<path d="M416.50 30.00L420.20 33.50L416.50 37.00L412.80 33.50ZM413.90 30.16L417.60 33.66L413.90 37.16L410.20 33.66ZM411.31 30.31L415.01 33.81L411.31 37.31L407.61 33.81ZM408.71 30.47L412.41 33.97L408.71 37.47L405.01 33.97ZM406.12 30.63L409.82 34.13L406.12 37.63L402.42 34.13ZM403.52 30.79L407.22 34.29L403.52 37.79L399.82 34.29ZM400.00 31.00L403.70 34.50L400.00 38.00L396.30 34.50ZM397.41 31.17L401.11 34.67L397.41 38.17L393.71 34.67ZM394.81 31.35L398.51 34.85L394.81 38.35L391.11 34.85ZM392.22 31.52L395.92 35.02L392.22 38.52L388.52 35.02ZM389.62 31.69L393.32 35.19L389.62 38.69L385.92 35.19ZM385.00 32.00L388.70 35.50L385.00 39.00L381.30 35.50ZM382.43 32.40L386.13 35.90L382.43 39.40L378.73 35.90ZM379.86 32.79L383.56 36.29L379.86 39.79L376.16 36.29ZM377.29 33.19L380.99 36.69L377.29 40.19L373.59 36.69ZM374.72 33.58L378.42 37.08L374.72 40.58L371.02 37.08ZM372.00 34.00L375.70 37.50L372.00 41.00L368.30 37.50ZM369.52 34.78L373.22 38.28L369.52 41.78L365.82 38.28ZM367.04 35.55L370.74 39.05L367.04 42.55L363.34 39.05ZM364.00 36.50L367.70 40.00L364.00 43.50L360.30 40.00ZM361.80 39.40L365.50 42.90L361.80 46.40L358.10 42.90ZM357.90 61.00L361.60 64.50L357.90 68.00L354.20 64.50ZM355.30 105.90L359.00 109.40L355.30 112.90L351.60 109.40ZM352.00 142.90L355.70 146.40L352.00 149.90L348.30 146.40ZM349.60 150.50L353.30 154.00L349.60 157.50L345.90 154.00ZM347.71 153.33L351.41 156.83L347.71 160.33L344.01 156.83ZM345.83 156.16L349.53 159.66L345.83 163.16L342.13 159.66ZM343.60 159.50L347.30 163.00L343.60 166.50L339.90 163.00ZM340.49 160.87L344.19 164.37L340.49 167.87L336.79 164.37ZM337.38 162.24L341.08 165.74L337.38 169.24L333.68 165.74ZM334.27 163.62L337.97 167.12L334.27 170.62L330.57 167.12ZM330.00 165.50L333.70 169.00L330.00 172.50L326.30 169.00ZM326.84 166.74L330.54 170.24L326.84 173.74L323.14 170.24ZM323.67 167.98L327.37 171.48L323.67 174.98L319.97 171.48ZM320.51 169.23L324.21 172.73L320.51 176.23L316.81 172.73ZM316.50 170.80L320.20 174.30L316.50 177.80L312.80 174.30ZM313.95 171.31L317.65 174.81L313.95 178.31L310.25 174.81ZM309.00 172.30L312.70 175.80L309.00 179.30L305.30 175.80ZM303.00 175.00L306.70 178.50L303.00 182.00L299.30 178.50ZM300.46 175.54L304.16 179.04L300.46 182.54L296.76 179.04Z" fill="#99ccff"/>
<path d="M296.00 180.00L316.00 178.50L322.60 176.60L330.00 174.30L342.10 169.80L360.00 162.30L366.00 158.00L371.00 150.00L376.00 134.00L380.80 121.00L384.00 99.50L387.90 67.40L391.90 55.30L394.90 42.60L399.00 38.00L405.00 35.50L416.50 33.50" fill="none" stroke="#99ccff" stroke-width="1.1"/>
<path d="M319.27 174.06L322.97 177.56L319.27 181.06L315.57 177.56ZM322.60 173.10L326.30 176.60L322.60 180.10L318.90 176.60ZM325.85 172.09L329.55 175.59L325.85 179.09L322.15 175.59ZM330.00 170.80L333.70 174.30L330.00 177.80L326.30 174.30ZM333.19 169.61L336.89 173.11L333.19 176.61L329.49 173.11ZM336.37 168.43L340.07 171.93L336.37 175.43L332.67 171.93ZM342.10 166.30L345.80 169.80L342.10 173.30L338.40 169.80ZM345.24 164.99L348.94 168.49L345.24 171.99L341.54 168.49ZM348.37 163.67L352.07 167.17L348.37 170.67L344.67 167.17ZM351.51 162.36L355.21 165.86L351.51 169.36L347.81 165.86ZM354.64 161.04L358.34 164.54L354.64 168.04L350.94 164.54ZM360.00 158.80L363.70 162.30L360.00 165.80L356.30 162.30ZM362.76 156.82L366.46 160.32L362.76 163.82L359.06 160.32ZM366.00 154.50L369.70 158.00L366.00 161.50L362.30 158.00ZM367.80 151.62L371.50 155.12L367.80 158.62L364.10 155.12ZM371.00 146.50L374.70 150.00L371.00 153.50L367.30 150.00ZM376.00 130.50L379.70 134.00L376.00 137.50L372.30 134.00ZM380.80 117.50L384.50 121.00L380.80 124.50L377.10 121.00ZM384.00 96.00L387.70 99.50L384.00 103.00L380.30 99.50ZM387.90 63.90L391.60 67.40L387.90 70.90L384.20 67.40ZM391.90 51.80L395.60 55.30L391.90 58.80L388.20 55.30ZM394.90 39.10L398.60 42.60L394.90 46.10L391.20 42.60ZM396.63 37.16L400.33 40.66L396.63 44.16L392.93 40.66ZM399.00 34.50L402.70 38.00L399.00 41.50L395.30 38.00ZM401.40 33.50L405.10 37.00L401.40 40.50L397.70 37.00ZM405.00 32.00L408.70 35.50L405.00 39.00L401.30 35.50Z" fill="#99ccff"/>
<path d="M401.00 31.30L348.20 31.30L346.00 45.30L342.60 75.50L339.30 110.90L335.50 148.60L329.00 187.00L325.00 193.60L296.00 193.80" fill="none" stroke="#1a62f0" stroke-width="1.1"/>
<path d="M401.00 27.80L404.70 31.30L401.00 34.80L397.30 31.30ZM398.00 27.80L401.70 31.30L398.00 34.80L394.30 31.30ZM395.00 27.80L398.70 31.30L395.00 34.80L391.30 31.30ZM392.00 27.80L395.70 31.30L392.00 34.80L388.30 31.30ZM389.00 27.80L392.70 31.30L389.00 34.80L385.30 31.30ZM386.00 27.80L389.70 31.30L386.00 34.80L382.30 31.30ZM383.00 27.80L386.70 31.30L383.00 34.80L379.30 31.30ZM380.00 27.80L383.70 31.30L380.00 34.80L376.30 31.30ZM377.00 27.80L380.70 31.30L377.00 34.80L373.30 31.30ZM374.00 27.80L377.70 31.30L374.00 34.80L370.30 31.30ZM371.00 27.80L374.70 31.30L371.00 34.80L367.30 31.30ZM368.00 27.80L371.70 31.30L368.00 34.80L364.30 31.30ZM365.00 27.80L368.70 31.30L365.00 34.80L361.30 31.30ZM362.00 27.80L365.70 31.30L362.00 34.80L358.30 31.30ZM359.00 27.80L362.70 31.30L359.00 34.80L355.30 31.30ZM356.00 27.80L359.70 31.30L356.00 34.80L352.30 31.30ZM353.00 27.80L356.70 31.30L353.00 34.80L349.30 31.30ZM348.20 27.80L351.90 31.30L348.20 34.80L344.50 31.30ZM346.00 41.80L349.70 45.30L346.00 48.80L342.30 45.30ZM342.60 72.00L346.30 75.50L342.60 79.00L338.90 75.50ZM339.30 107.40L343.00 110.90L339.30 114.40L335.60 110.90ZM335.50 145.10L339.20 148.60L335.50 152.10L331.80 148.60ZM329.00 183.50L332.70 187.00L329.00 190.50L325.30 187.00ZM325.00 190.10L328.70 193.60L325.00 197.10L321.30 193.60ZM322.00 190.12L325.70 193.62L322.00 197.12L318.30 193.62ZM319.00 190.14L322.70 193.64L319.00 197.14L315.30 193.64ZM316.00 190.16L319.70 193.66L316.00 197.16L312.30 193.66ZM313.00 190.18L316.70 193.68L313.00 197.18L309.30 193.68ZM310.00 190.20L313.70 193.70L310.00 197.20L306.30 193.70ZM307.00 190.22L310.70 193.72L307.00 197.22L303.30 193.72ZM304.00 190.24L307.70 193.74L304.00 197.24L300.30 193.74ZM301.00 190.27L304.70 193.77L301.00 197.27L297.30 193.77ZM296.00 190.30L299.70 193.80L296.00 197.30L292.30 193.80Z" fill="#1a62f0"/>
<path d="M298.00 193.80L366.00 193.60L367.40 190.90L371.90 183.50L374.00 152.40L377.90 86.80L380.70 38.80L383.00 31.30L401.00 31.30" fill="none" stroke="#1a62f0" stroke-width="1.1"/>
<path d="M298.00 190.30L301.70 193.80L298.00 197.30L294.30 193.80ZM301.00 190.29L304.70 193.79L301.00 197.29L297.30 193.79ZM304.00 190.28L307.70 193.78L304.00 197.28L300.30 193.78ZM307.00 190.27L310.70 193.77L307.00 197.27L303.30 193.77ZM310.00 190.26L313.70 193.76L310.00 197.26L306.30 193.76ZM313.00 190.26L316.70 193.76L313.00 197.26L309.30 193.76ZM316.00 190.25L319.70 193.75L316.00 197.25L312.30 193.75ZM319.00 190.24L322.70 193.74L319.00 197.24L315.30 193.74ZM322.00 190.23L325.70 193.73L322.00 197.23L318.30 193.73ZM325.00 190.22L328.70 193.72L325.00 197.22L321.30 193.72ZM328.00 190.21L331.70 193.71L328.00 197.21L324.30 193.71ZM331.00 190.20L334.70 193.70L331.00 197.20L327.30 193.70ZM334.00 190.19L337.70 193.69L334.00 197.19L330.30 193.69ZM337.00 190.19L340.70 193.69L337.00 197.19L333.30 193.69ZM340.00 190.18L343.70 193.68L340.00 197.18L336.30 193.68ZM343.00 190.17L346.70 193.67L343.00 197.17L339.30 193.67ZM346.00 190.16L349.70 193.66L346.00 197.16L342.30 193.66ZM349.00 190.15L352.70 193.65L349.00 197.15L345.30 193.65ZM352.00 190.14L355.70 193.64L352.00 197.14L348.30 193.64ZM355.00 190.13L358.70 193.63L355.00 197.13L351.30 193.63ZM358.00 190.12L361.70 193.62L358.00 197.12L354.30 193.62ZM361.00 190.11L364.70 193.61L361.00 197.11L357.30 193.61ZM366.00 190.10L369.70 193.60L366.00 197.10L362.30 193.60ZM367.40 187.40L371.10 190.90L367.40 194.40L363.70 190.90ZM371.90 180.00L375.60 183.50L371.90 187.00L368.20 183.50ZM374.00 148.90L377.70 152.40L374.00 155.90L370.30 152.40ZM377.90 83.30L381.60 86.80L377.90 90.30L374.20 86.80ZM383.00 27.80L386.70 31.30L383.00 34.80L379.30 31.30Z" fill="#1a62f0"/>
<path d="M449.00 32.00L435.00 33.20L418.00 35.00L410.00 37.00L405.50 38.80L403.30 45.60L400.30 68.40L396.30 102.10L394.00 141.80L389.20 164.20L380.00 171.60L365.50 175.50L360.00 177.50" fill="none" stroke="#66e000" stroke-width="1.1"/>
<path d="M449.00 28.50L452.70 32.00L449.00 35.50L445.30 32.00ZM446.41 28.72L450.11 32.22L446.41 35.72L442.71 32.22ZM443.82 28.94L447.52 32.44L443.82 35.94L440.12 32.44ZM441.23 29.17L444.93 32.67L441.23 36.17L437.53 32.67ZM438.64 29.39L442.34 32.89L438.64 36.39L434.94 32.89ZM435.00 29.70L438.70 33.20L435.00 36.70L431.30 33.20ZM432.41 29.97L436.11 33.47L432.41 36.97L428.71 33.47ZM429.83 30.25L433.53 33.75L429.83 37.25L426.13 33.75ZM427.24 30.52L430.94 34.02L427.24 37.52L423.54 34.02ZM424.66 30.80L428.36 34.30L424.66 37.80L420.96 34.30ZM422.07 31.07L425.77 34.57L422.07 38.07L418.37 34.57ZM418.00 31.50L421.70 35.00L418.00 38.50L414.30 35.00ZM415.48 32.13L419.18 35.63L415.48 39.13L411.78 35.63ZM412.96 32.76L416.66 36.26L412.96 39.76L409.26 36.26ZM410.00 33.50L413.70 37.00L410.00 40.50L406.30 37.00ZM405.50 35.30L409.20 38.80L405.50 42.30L401.80 38.80ZM403.30 42.10L407.00 45.60L403.30 49.10L399.60 45.60ZM400.30 64.90L404.00 68.40L400.30 71.90L396.60 68.40ZM396.30 98.60L400.00 102.10L396.30 105.60L392.60 102.10ZM394.00 138.30L397.70 141.80L394.00 145.30L390.30 141.80ZM389.20 160.70L392.90 164.20L389.20 167.70L385.50 164.20ZM386.55 162.83L390.25 166.33L386.55 169.83L382.85 166.33ZM383.90 164.96L387.60 168.46L383.90 171.96L380.20 168.46ZM380.00 168.10L383.70 171.60L380.00 175.10L376.30 171.60ZM376.72 168.98L380.42 172.48L376.72 175.98L373.02 172.48ZM373.43 169.87L377.13 173.37L373.43 176.87L369.73 173.37ZM370.15 170.75L373.85 174.25L370.15 177.75L366.45 174.25ZM365.50 172.00L369.20 175.50L365.50 179.00L361.80 175.50Z" fill="#66e000"/>
<path d="M362.00 177.50L370.00 176.50L385.00 174.00L400.00 167.00L408.00 160.00L413.60 150.50L418.00 141.00L421.80 126.20L425.60 103.70L429.00 80.00L432.60 55.30L436.40 42.60L440.00 38.00L445.00 34.00L449.00 32.00" fill="none" stroke="#66e000" stroke-width="1.1"/>
<path d="M364.58 173.68L368.28 177.18L364.58 180.68L360.88 177.18ZM367.16 173.36L370.86 176.86L367.16 180.36L363.46 176.86ZM370.00 173.00L373.70 176.50L370.00 180.00L366.30 176.50ZM372.56 172.57L376.26 176.07L372.56 179.57L368.86 176.07ZM375.13 172.15L378.83 175.65L375.13 179.15L371.43 175.65ZM377.69 171.72L381.39 175.22L377.69 178.72L373.99 175.22ZM380.26 171.29L383.96 174.79L380.26 178.29L376.56 174.79ZM385.00 170.50L388.70 174.00L385.00 177.50L381.30 174.00ZM388.08 169.06L391.78 172.56L388.08 176.06L384.38 172.56ZM391.16 167.62L394.86 171.12L391.16 174.62L387.46 171.12ZM394.24 166.19L397.94 169.69L394.24 173.19L390.54 169.69ZM400.00 163.50L403.70 167.00L400.00 170.50L396.30 167.00ZM402.56 161.26L406.26 164.76L402.56 168.26L398.86 164.76ZM405.12 159.02L408.82 162.52L405.12 166.02L401.42 162.52ZM408.00 156.50L411.70 160.00L408.00 163.50L404.30 160.00ZM409.73 153.57L413.43 157.07L409.73 160.57L406.03 157.07ZM411.45 150.64L415.15 154.14L411.45 157.64L407.75 154.14ZM413.60 147.00L417.30 150.50L413.60 154.00L409.90 150.50ZM415.03 143.91L418.73 147.41L415.03 150.91L411.33 147.41ZM416.46 140.83L420.16 144.33L416.46 147.83L412.76 144.33ZM418.00 137.50L421.70 141.00L418.00 144.50L414.30 141.00ZM421.80 122.70L425.50 126.20L421.80 129.70L418.10 126.20ZM425.60 100.20L429.30 103.70L425.60 107.20L421.90 103.70ZM429.00 76.50L432.70 80.00L429.00 83.50L425.30 80.00ZM432.60 51.80L436.30 55.30L432.60 58.80L428.90 55.30ZM436.40 39.10L440.10 42.60L436.40 46.10L432.70 42.60ZM438.00 37.05L441.70 40.55L438.00 44.05L434.30 40.55ZM440.00 34.50L443.70 38.00L440.00 41.50L436.30 38.00ZM442.03 32.88L445.73 36.38L442.03 39.88L438.33 36.38ZM445.00 30.50L448.70 34.00L445.00 37.50L441.30 34.00Z" fill="#66e000"/>
<path d="M488.00 29.30L478.00 29.60L468.00 30.20L460.00 31.30L453.00 33.50L448.00 37.50L445.30 42.80L442.70 51.30L437.60 62.40L434.80 81.00L431.70 119.50L429.00 153.50L425.00 166.00L418.00 173.00L405.00 177.00L380.00 179.00" fill="none" stroke="#bba8f8" stroke-width="1.1"/>
<path d="M488.00 25.80L491.70 29.30L488.00 32.80L484.30 29.30ZM485.40 25.88L489.10 29.38L485.40 32.88L481.70 29.38ZM482.80 25.96L486.50 29.46L482.80 32.96L479.10 29.46ZM478.00 26.10L481.70 29.60L478.00 33.10L474.30 29.60ZM475.40 26.26L479.10 29.76L475.40 33.26L471.70 29.76ZM472.81 26.41L476.51 29.91L472.81 33.41L469.11 29.91ZM468.00 26.70L471.70 30.20L468.00 33.70L464.30 30.20ZM465.42 27.05L469.12 30.55L465.42 34.05L461.72 30.55ZM462.85 27.41L466.55 30.91L462.85 34.41L459.15 30.91ZM460.00 27.80L463.70 31.30L460.00 34.80L456.30 31.30ZM457.52 28.58L461.22 32.08L457.52 35.58L453.82 32.08ZM453.00 30.00L456.70 33.50L453.00 37.00L449.30 33.50ZM450.97 31.62L454.67 35.12L450.97 38.62L447.27 35.12ZM448.00 34.00L451.70 37.50L448.00 41.00L444.30 37.50ZM445.30 39.30L449.00 42.80L445.30 46.30L441.60 42.80ZM442.70 47.80L446.40 51.30L442.70 54.80L439.00 51.30ZM437.60 58.90L441.30 62.40L437.60 65.90L433.90 62.40ZM434.80 77.50L438.50 81.00L434.80 84.50L431.10 81.00ZM431.70 116.00L435.40 119.50L431.70 123.00L428.00 119.50ZM429.00 150.00L432.70 153.50L429.00 157.00L425.30 153.50ZM425.00 162.50L428.70 166.00L425.00 169.50L421.30 166.00ZM422.60 164.90L426.30 168.40L422.60 171.90L418.90 168.40ZM418.00 169.50L421.70 173.00L418.00 176.50L414.30 173.00ZM414.75 170.50L418.45 174.00L414.75 177.50L411.05 174.00ZM411.50 171.50L415.20 175.00L411.50 178.50L407.80 175.00ZM408.25 172.50L411.95 176.00L408.25 179.50L404.55 176.00ZM405.00 173.50L408.70 177.00L405.00 180.50L401.30 177.00ZM402.41 173.71L406.11 177.21L402.41 180.71L398.71 177.21ZM399.82 173.91L403.52 177.41L399.82 180.91L396.12 177.41ZM397.22 174.12L400.92 177.62L397.22 181.12L393.52 177.62ZM394.63 174.33L398.33 177.83L394.63 181.33L390.93 177.83ZM392.04 174.54L395.74 178.04L392.04 181.54L388.34 178.04ZM389.45 174.74L393.15 178.24L389.45 181.74L385.75 178.24ZM386.86 174.95L390.56 178.45L386.86 181.95L383.16 178.45ZM384.27 175.16L387.97 178.66L384.27 182.16L380.57 178.66ZM380.00 175.50L383.70 179.00L380.00 182.50L376.30 179.00Z" fill="#bba8f8"/>
<path d="M400.00 179.00L420.00 176.50L433.50 172.50L445.00 167.00L451.60 162.60L456.10 154.70L460.60 142.30L464.00 114.30L467.30 75.30L470.80 48.80L473.50 43.00L478.00 39.00L486.50 36.00L492.00 33.50" fill="none" stroke="#bba8f8" stroke-width="1.1"/>
<path d="M402.58 175.18L406.28 178.68L402.58 182.18L398.88 178.68ZM405.16 174.86L408.86 178.36L405.16 181.86L401.46 178.36ZM407.74 174.53L411.44 178.03L407.74 181.53L404.04 178.03ZM410.32 174.21L414.02 177.71L410.32 181.21L406.62 177.71ZM412.90 173.89L416.60 177.39L412.90 180.89L409.20 177.39ZM415.48 173.57L419.18 177.07L415.48 180.57L411.78 177.07ZM420.00 173.00L423.70 176.50L420.00 180.00L416.30 176.50ZM423.26 172.03L426.96 175.53L423.26 179.03L419.56 175.53ZM426.52 171.07L430.22 174.57L426.52 178.07L422.82 174.57ZM429.78 170.10L433.48 173.60L429.78 177.10L426.08 173.60ZM433.50 169.00L437.20 172.50L433.50 176.00L429.80 172.50ZM436.57 167.53L440.27 171.03L436.57 174.53L432.87 171.03ZM439.63 166.07L443.33 169.57L439.63 173.07L435.93 169.57ZM445.00 163.50L448.70 167.00L445.00 170.50L441.30 167.00ZM447.83 161.61L451.53 165.11L447.83 168.61L444.13 165.11ZM451.60 159.10L455.30 162.60L451.60 166.10L447.90 162.60ZM453.28 156.15L456.98 159.65L453.28 163.15L449.58 159.65ZM456.10 151.20L459.80 154.70L456.10 158.20L452.40 154.70ZM460.60 138.80L464.30 142.30L460.60 145.80L456.90 142.30ZM464.00 110.80L467.70 114.30L464.00 117.80L460.30 114.30ZM467.30 71.80L471.00 75.30L467.30 78.80L463.60 75.30ZM470.80 45.30L474.50 48.80L470.80 52.30L467.10 48.80ZM471.90 42.94L475.60 46.44L471.90 49.94L468.20 46.44ZM473.50 39.50L477.20 43.00L473.50 46.50L469.80 43.00ZM475.44 37.77L479.14 41.27L475.44 44.77L471.74 41.27ZM478.00 35.50L481.70 39.00L478.00 42.50L474.30 39.00ZM480.45 34.63L484.15 38.13L480.45 41.63L476.75 38.13ZM482.90 33.77L486.60 37.27L482.90 40.77L479.20 37.27ZM486.50 32.50L490.20 36.00L486.50 39.50L482.80 36.00ZM488.87 31.42L492.57 34.92L488.87 38.42L485.17 34.92ZM492.00 30.00L495.70 33.50L492.00 37.00L488.30 33.50Z" fill="#bba8f8"/>
<path d="M507.60 29.50L495.00 30.20L485.00 31.50L475.00 34.00L468.00 38.00L464.50 42.00L462.50 45.80L459.40 76.00L455.60 120.60L452.70 150.20L448.00 162.00L440.00 170.00L425.00 175.00L405.00 178.50" fill="none" stroke="#f080b8" stroke-width="1.1"/>
<path d="M507.60 26.00L511.30 29.50L507.60 33.00L503.90 29.50ZM505.00 26.14L508.70 29.64L505.00 33.14L501.30 29.64ZM502.41 26.29L506.11 29.79L502.41 33.29L498.71 29.79ZM499.81 26.43L503.51 29.93L499.81 33.43L496.11 29.93ZM495.00 26.70L498.70 30.20L495.00 33.70L491.30 30.20ZM492.42 27.04L496.12 30.54L492.42 34.04L488.72 30.54ZM489.84 27.37L493.54 30.87L489.84 34.37L486.14 30.87ZM485.00 28.00L488.70 31.50L485.00 35.00L481.30 31.50ZM482.48 28.63L486.18 32.13L482.48 35.63L478.78 32.13ZM479.96 29.26L483.66 32.76L479.96 36.26L476.26 32.76ZM475.00 30.50L478.70 34.00L475.00 37.50L471.30 34.00ZM472.74 31.79L476.44 35.29L472.74 38.79L469.04 35.29ZM470.49 33.08L474.19 36.58L470.49 40.08L466.79 36.58ZM468.00 34.50L471.70 38.00L468.00 41.50L464.30 38.00ZM466.29 36.46L469.99 39.96L466.29 43.46L462.59 39.96ZM464.50 38.50L468.20 42.00L464.50 45.50L460.80 42.00ZM462.50 42.30L466.20 45.80L462.50 49.30L458.80 45.80ZM459.40 72.50L463.10 76.00L459.40 79.50L455.70 76.00ZM455.60 117.10L459.30 120.60L455.60 124.10L451.90 120.60ZM452.70 146.70L456.40 150.20L452.70 153.70L449.00 150.20ZM448.00 158.50L451.70 162.00L448.00 165.50L444.30 162.00ZM445.60 160.90L449.30 164.40L445.60 167.90L441.90 164.40ZM443.19 163.31L446.89 166.81L443.19 170.31L439.49 166.81ZM440.00 166.50L443.70 170.00L440.00 173.50L436.30 170.00ZM436.77 167.58L440.47 171.08L436.77 174.58L433.07 171.08ZM433.55 168.65L437.25 172.15L433.55 175.65L429.85 172.15ZM430.32 169.73L434.02 173.23L430.32 176.73L426.62 173.23ZM425.00 171.50L428.70 175.00L425.00 178.50L421.30 175.00ZM422.44 171.95L426.14 175.45L422.44 178.95L418.74 175.45ZM419.88 172.40L423.58 175.90L419.88 179.40L416.18 175.90ZM417.32 172.84L421.02 176.34L417.32 179.84L413.62 176.34ZM414.76 173.29L418.46 176.79L414.76 180.29L411.06 176.79ZM412.19 173.74L415.89 177.24L412.19 180.74L408.49 177.24ZM409.63 174.19L413.33 177.69L409.63 181.19L405.93 177.69ZM405.00 175.00L408.70 178.50L405.00 182.00L401.30 178.50Z" fill="#f080b8"/>
<path d="M425.00 178.00L440.00 176.00L453.80 173.80L465.00 167.00L474.00 158.50L481.30 147.10L484.30 130.70L487.20 94.50L490.70 62.40L493.00 42.00L497.00 36.00L507.60 29.50" fill="none" stroke="#f080b8" stroke-width="1.1"/>
<path d="M427.58 174.16L431.28 177.66L427.58 181.16L423.88 177.66ZM430.15 173.81L433.85 177.31L430.15 180.81L426.45 177.31ZM432.73 173.47L436.43 176.97L432.73 180.47L429.03 176.97ZM435.31 173.13L439.01 176.63L435.31 180.13L431.61 176.63ZM440.00 172.50L443.70 176.00L440.00 179.50L436.30 176.00ZM442.57 172.09L446.27 175.59L442.57 179.09L438.87 175.59ZM445.14 171.68L448.84 175.18L445.14 178.68L441.44 175.18ZM447.70 171.27L451.40 174.77L447.70 178.27L444.00 174.77ZM450.27 170.86L453.97 174.36L450.27 177.86L446.57 174.36ZM453.80 170.30L457.50 173.80L453.80 177.30L450.10 173.80ZM456.71 168.54L460.41 172.04L456.71 175.54L453.01 172.04ZM459.61 166.77L463.31 170.27L459.61 173.77L455.91 170.27ZM465.00 163.50L468.70 167.00L465.00 170.50L461.30 167.00ZM467.47 161.17L471.17 164.67L467.47 168.17L463.77 164.67ZM469.94 158.83L473.64 162.33L469.94 165.83L466.24 162.33ZM474.00 155.00L477.70 158.50L474.00 162.00L470.30 158.50ZM475.83 152.14L479.53 155.64L475.83 159.14L472.13 155.64ZM477.67 149.27L481.37 152.77L477.67 156.27L473.97 152.77ZM481.30 143.60L485.00 147.10L481.30 150.60L477.60 147.10ZM484.30 127.20L488.00 130.70L484.30 134.20L480.60 130.70ZM487.20 91.00L490.90 94.50L487.20 98.00L483.50 94.50ZM490.70 58.90L494.40 62.40L490.70 65.90L487.00 62.40ZM494.44 36.34L498.14 39.84L494.44 43.34L490.74 39.84Z" fill="#f080b8"/>
<path d="M542.90 31.50L535.00 33.00L527.00 34.50L515.00 33.50L508.00 33.20L500.00 35.00L494.50 39.90L493.50 46.40L492.60 67.10L488.40 123.90L485.50 162.00L481.00 167.30L470.00 172.00L455.00 175.50L445.00 177.00" fill="none" stroke="#ffc030" stroke-width="1.1"/>
<path d="M542.90 28.00L546.60 31.50L542.90 35.00L539.20 31.50ZM540.35 28.49L544.05 31.99L540.35 35.49L536.65 31.99ZM537.79 28.97L541.49 32.47L537.79 35.97L534.09 32.47ZM535.00 29.50L538.70 33.00L535.00 36.50L531.30 33.00ZM532.44 29.98L536.14 33.48L532.44 36.98L528.74 33.48ZM529.89 30.46L533.59 33.96L529.89 37.46L526.19 33.96ZM527.00 31.00L530.70 34.50L527.00 38.00L523.30 34.50ZM524.41 30.78L528.11 34.28L524.41 37.78L520.71 34.28ZM521.82 30.57L525.52 34.07L521.82 37.57L518.12 34.07ZM519.23 30.35L522.93 33.85L519.23 37.35L515.53 33.85ZM515.00 30.00L518.70 33.50L515.00 37.00L511.30 33.50ZM512.40 29.89L516.10 33.39L512.40 36.89L508.70 33.39ZM508.00 29.70L511.70 33.20L508.00 36.70L504.30 33.20ZM505.46 30.27L509.16 33.77L505.46 37.27L501.76 33.77ZM502.93 30.84L506.63 34.34L502.93 37.84L499.23 34.34ZM500.00 31.50L503.70 35.00L500.00 38.50L496.30 35.00ZM498.06 33.23L501.76 36.73L498.06 40.23L494.36 36.73ZM494.50 36.40L498.20 39.90L494.50 43.40L490.80 39.90ZM492.60 63.60L496.30 67.10L492.60 70.60L488.90 67.10ZM488.40 120.40L492.10 123.90L488.40 127.40L484.70 123.90ZM485.50 158.50L489.20 162.00L485.50 165.50L481.80 162.00ZM483.30 161.09L487.00 164.59L483.30 168.09L479.60 164.59ZM481.00 163.80L484.70 167.30L481.00 170.80L477.30 167.30ZM477.87 165.14L481.57 168.64L477.87 172.14L474.17 168.64ZM474.75 166.47L478.45 169.97L474.75 173.47L471.05 169.97ZM470.00 168.50L473.70 172.00L470.00 175.50L466.30 172.00ZM467.47 169.09L471.17 172.59L467.47 176.09L463.77 172.59ZM464.94 169.68L468.64 173.18L464.94 176.68L461.24 173.18ZM462.40 170.27L466.10 173.77L462.40 177.27L458.70 173.77ZM459.87 170.86L463.57 174.36L459.87 177.86L456.17 174.36ZM455.00 172.00L458.70 175.50L455.00 179.00L451.30 175.50ZM452.43 172.39L456.13 175.89L452.43 179.39L448.73 175.89ZM449.86 172.77L453.56 176.27L449.86 179.77L446.16 176.27ZM445.00 173.50L448.70 177.00L445.00 180.50L441.30 177.00Z" fill="#ffc030"/>
<path d="M470.00 175.50L485.30 172.00L500.00 168.50L507.00 165.00L511.40 160.00L513.40 153.20L517.00 126.30L520.90 82.30L523.20 50.80L527.00 36.00L530.00 34.20L542.90 31.50" fill="none" stroke="#ffc030" stroke-width="1.1"/>
<path d="M472.53 171.42L476.23 174.92L472.53 178.42L468.83 174.92ZM475.07 170.84L478.77 174.34L475.07 177.84L471.37 174.34ZM477.60 170.26L481.30 173.76L477.60 177.26L473.90 173.76ZM480.14 169.68L483.84 173.18L480.14 176.68L476.44 173.18ZM482.67 169.10L486.37 172.60L482.67 176.10L478.97 172.60ZM485.30 168.50L489.00 172.00L485.30 175.50L481.60 172.00ZM487.83 167.90L491.53 171.40L487.83 174.90L484.13 171.40ZM490.36 167.30L494.06 170.80L490.36 174.30L486.66 170.80ZM492.89 166.69L496.59 170.19L492.89 173.69L489.19 170.19ZM495.42 166.09L499.12 169.59L495.42 173.09L491.72 169.59ZM500.00 165.00L503.70 168.50L500.00 172.00L496.30 168.50ZM503.04 163.48L506.74 166.98L503.04 170.48L499.34 166.98ZM507.00 161.50L510.70 165.00L507.00 168.50L503.30 165.00ZM511.40 156.50L515.10 160.00L511.40 163.50L507.70 160.00ZM513.40 149.70L517.10 153.20L513.40 156.70L509.70 153.20ZM517.00 122.80L520.70 126.30L517.00 129.80L513.30 126.30ZM520.90 78.80L524.60 82.30L520.90 85.80L517.20 82.30ZM523.20 47.30L526.90 50.80L523.20 54.30L519.50 50.80ZM527.00 32.50L530.70 36.00L527.00 39.50L523.30 36.00Z" fill="#ffc030"/>
<path d="M541.80 29.50L539.50 27.80L525.00 29.80L513.50 32.00L510.70 37.70L506.80 84.30L503.70 157.60L502.40 173.40L492.00 174.90L478.00 176.30L422.00 178.60L359.00 179.70L296.00 179.90" fill="none" stroke="#ff0000" stroke-width="1.1"/>
<path d="M541.80 26.00L545.50 29.50L541.80 33.00L538.10 29.50ZM539.50 24.30L543.20 27.80L539.50 31.30L535.80 27.80ZM536.73 24.68L540.43 28.18L536.73 31.68L533.03 28.18ZM533.95 25.07L537.65 28.57L533.95 32.07L530.25 28.57ZM531.18 25.45L534.88 28.95L531.18 32.45L527.48 28.95ZM528.41 25.83L532.11 29.33L528.41 32.83L524.71 29.33ZM525.00 26.30L528.70 29.80L525.00 33.30L521.30 29.80ZM522.25 26.83L525.95 30.33L522.25 33.83L518.55 30.33ZM519.50 27.35L523.20 30.85L519.50 34.35L515.80 30.85ZM516.75 27.88L520.45 31.38L516.75 34.88L513.05 31.38ZM513.50 28.50L517.20 32.00L513.50 35.50L509.80 32.00ZM512.27 31.01L515.97 34.51L512.27 38.01L508.57 34.51ZM510.70 34.20L514.40 37.70L510.70 41.20L507.00 37.70ZM506.80 80.80L510.50 84.30L506.80 87.80L503.10 84.30ZM503.70 154.10L507.40 157.60L503.70 161.10L500.00 157.60ZM502.40 169.90L506.10 173.40L502.40 176.90L498.70 173.40ZM498.94 170.40L502.64 173.90L498.94 177.40L495.24 173.90ZM495.47 170.90L499.17 174.40L495.47 177.90L491.77 174.40ZM492.00 171.40L495.70 174.90L492.00 178.40L488.30 174.90ZM485.03 172.10L488.73 175.60L485.03 179.10L481.33 175.60ZM478.00 172.80L481.70 176.30L478.00 179.80L474.30 176.30ZM471.01 173.09L474.71 176.59L471.01 180.09L467.31 176.59ZM464.01 173.37L467.71 176.87L464.01 180.37L460.31 176.87ZM457.02 173.66L460.72 177.16L457.02 180.66L453.32 177.16ZM450.02 173.95L453.72 177.45L450.02 180.95L446.32 177.45ZM443.03 174.24L446.73 177.74L443.03 181.24L439.33 177.74ZM436.04 174.52L439.74 178.02L436.04 181.52L432.34 178.02ZM429.04 174.81L432.74 178.31L429.04 181.81L425.34 178.31ZM422.00 175.10L425.70 178.60L422.00 182.10L418.30 178.60ZM415.00 175.22L418.70 178.72L415.00 182.22L411.30 178.72ZM408.00 175.34L411.70 178.84L408.00 182.34L404.30 178.84ZM401.00 175.47L404.70 178.97L401.00 182.47L397.30 178.97ZM394.00 175.59L397.70 179.09L394.00 182.59L390.30 179.09ZM387.01 175.71L390.71 179.21L387.01 182.71L383.31 179.21ZM380.01 175.83L383.71 179.33L380.01 182.83L376.31 179.33ZM373.01 175.96L376.71 179.46L373.01 182.96L369.31 179.46ZM366.01 176.08L369.71 179.58L366.01 183.08L362.31 179.58ZM359.00 176.20L362.70 179.70L359.00 183.20L355.30 179.70ZM352.00 176.22L355.70 179.72L352.00 183.22L348.30 179.72ZM345.00 176.24L348.70 179.74L345.00 183.24L341.30 179.74ZM338.00 176.27L341.70 179.77L338.00 183.27L334.30 179.77ZM331.00 176.29L334.70 179.79L331.00 183.29L327.30 179.79ZM324.00 176.31L327.70 179.81L324.00 183.31L320.30 179.81ZM317.00 176.33L320.70 179.83L317.00 183.33L313.30 179.83ZM310.00 176.36L313.70 179.86L310.00 183.36L306.30 179.86ZM303.00 176.38L306.70 179.88L303.00 183.38L299.30 179.88ZM296.00 176.40L299.70 179.90L296.00 183.40L292.30 179.90Z" fill="#ff0000"/>
<path d="M296.00 179.90L478.00 176.30L492.00 174.90L495.00 174.50L510.00 171.20L525.00 166.50L533.20 160.30L537.30 120.20L540.00 41.10L541.20 33.00L541.80 29.50" fill="none" stroke="#ff0000" stroke-width="1.1"/>
<path d="M497.93 170.36L501.63 173.86L497.93 177.36L494.23 173.86ZM500.86 169.71L504.56 173.21L500.86 176.71L497.16 173.21ZM503.79 169.07L507.49 172.57L503.79 176.07L500.09 172.57ZM506.72 168.42L510.42 171.92L506.72 175.42L503.02 171.92ZM510.00 167.70L513.70 171.20L510.00 174.70L506.30 171.20ZM513.24 166.68L516.94 170.18L513.24 173.68L509.54 170.18ZM516.49 165.67L520.19 169.17L516.49 172.67L512.79 169.17ZM519.73 164.65L523.43 168.15L519.73 171.65L516.03 168.15ZM525.00 163.00L528.70 166.50L525.00 170.00L521.30 166.50ZM527.71 160.95L531.41 164.45L527.71 167.95L524.01 164.45ZM530.42 158.90L534.12 162.40L530.42 165.90L526.72 162.40ZM533.20 156.80L536.90 160.30L533.20 163.80L529.50 160.30ZM537.30 116.70L541.00 120.20L537.30 123.70L533.60 120.20ZM540.00 37.60L543.70 41.10L540.00 44.60L536.30 41.10Z" fill="#ff0000"/>
<path d="M296.2 16.9 L557.6 16.9 L557.6 204.4 L296.2 204.4 Z" fill="none" stroke="#555" stroke-width="1.5"/><line x1="296.2" y1="157.70" x2="299.5" y2="157.70" stroke="#606060" stroke-width="1.2"/><line x1="296.2" y1="110.80" x2="299.5" y2="110.80" stroke="#606060" stroke-width="1.2"/><line x1="296.2" y1="63.90" x2="299.5" y2="63.90" stroke="#606060" stroke-width="1.2"/><line x1="331.10" y1="204.6" x2="331.10" y2="202.0" stroke="#606060" stroke-width="1.2"/><line x1="366.00" y1="204.6" x2="366.00" y2="202.0" stroke="#606060" stroke-width="1.2"/><line x1="400.90" y1="204.6" x2="400.90" y2="202.0" stroke="#606060" stroke-width="1.2"/><line x1="435.80" y1="204.6" x2="435.80" y2="202.0" stroke="#606060" stroke-width="1.2"/><line x1="470.70" y1="204.6" x2="470.70" y2="202.0" stroke="#606060" stroke-width="1.2"/><line x1="505.60" y1="204.6" x2="505.60" y2="202.0" stroke="#606060" stroke-width="1.2"/><line x1="540.50" y1="204.6" x2="540.50" y2="202.0" stroke="#606060" stroke-width="1.2"/>
<text x="284.5" y="208.30" text-anchor="end" class="t">0.0</text><text x="284.5" y="161.40" text-anchor="end" class="t">1.0</text><text x="284.5" y="114.50" text-anchor="end" class="t">2.0</text><text x="284.5" y="67.60" text-anchor="end" class="t">3.0</text><text x="284.5" y="20.70" text-anchor="end" class="t">4.0</text><text transform="translate(296.20,220.6) scale(0.93,1)" text-anchor="middle" class="t">260</text><text transform="translate(331.10,220.6) scale(0.93,1)" text-anchor="middle" class="t">280</text><text transform="translate(366.00,220.6) scale(0.93,1)" text-anchor="middle" class="t">300</text><text transform="translate(400.90,220.6) scale(0.93,1)" text-anchor="middle" class="t">320</text><text transform="translate(435.80,220.6) scale(0.93,1)" text-anchor="middle" class="t">340</text><text transform="translate(470.70,220.6) scale(0.93,1)" text-anchor="middle" class="t">360</text><text transform="translate(505.60,220.6) scale(0.93,1)" text-anchor="middle" class="t">380</text><text transform="translate(540.50,220.6) scale(0.93,1)" text-anchor="middle" class="t">400</text>
</g>
<text x="404.6" y="233.6" class="t" style="font-size:10.8px"><tspan font-style="italic">T</tspan> / K</text>
<text transform="translate(260.6,136.8) rotate(-90) scale(0.945,1)" class="t" style="font-size:10.9px"><tspan font-style="italic">χ</tspan><tspan font-style="italic" font-size="7" dy="2">M</tspan><tspan font-style="italic" dy="-2">T</tspan> / emu K mol<tspan font-size="7.5" dy="-4.2">-1</tspan></text>
<text x="409.4" y="262.3" class="cap">(b)</text>
</svg>
</body></html>
